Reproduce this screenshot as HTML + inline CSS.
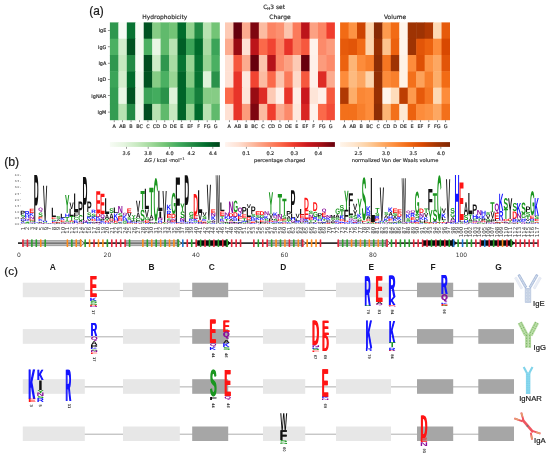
<!DOCTYPE html>
<html><head><meta charset="utf-8"><title>Figure</title>
<style>html,body{margin:0;padding:0;background:#fff}svg{display:block}text{white-space:pre}.g{text-rendering:geometricPrecision}</style>
</head><body>
<svg width="550" height="456" viewBox="0 0 550 456">
<rect width="550" height="456" fill="#fff"/>
<g font-family="'DejaVu Sans','Liberation Sans',sans-serif" font-size="4.9" fill="#2a2a2a" stroke="#2a2a2a" stroke-width="0.16">
<rect stroke="none" x="109.90" y="22.40" width="8.95" height="16.80" fill="#2f974e"/>
<rect stroke="none" x="118.35" y="22.40" width="8.95" height="16.80" fill="#f7fcf5"/>
<rect stroke="none" x="126.81" y="22.40" width="8.95" height="16.80" fill="#077331"/>
<rect stroke="none" x="135.26" y="22.40" width="8.95" height="16.80" fill="#f7fcf5"/>
<rect stroke="none" x="143.72" y="22.40" width="8.95" height="16.80" fill="#005321"/>
<rect stroke="none" x="152.17" y="22.40" width="8.95" height="16.80" fill="#86cc85"/>
<rect stroke="none" x="160.62" y="22.40" width="8.95" height="16.80" fill="#60ba6c"/>
<rect stroke="none" x="169.08" y="22.40" width="8.95" height="16.80" fill="#73c476"/>
<rect stroke="none" x="177.53" y="22.40" width="8.95" height="16.80" fill="#006b2b"/>
<rect stroke="none" x="185.98" y="22.40" width="8.95" height="16.80" fill="#91d28e"/>
<rect stroke="none" x="194.44" y="22.40" width="8.95" height="16.80" fill="#228a44"/>
<rect stroke="none" x="202.89" y="22.40" width="8.95" height="16.80" fill="#b8e3b2"/>
<rect stroke="none" x="211.35" y="22.40" width="8.45" height="16.80" fill="#73c476"/>
<rect stroke="none" x="109.90" y="38.70" width="8.95" height="16.80" fill="#4bb062"/>
<rect stroke="none" x="118.35" y="38.70" width="8.95" height="16.80" fill="#d3eecd"/>
<rect stroke="none" x="126.81" y="38.70" width="8.95" height="16.80" fill="#005321"/>
<rect stroke="none" x="135.26" y="38.70" width="8.95" height="16.80" fill="#f4fbf2"/>
<rect stroke="none" x="143.72" y="38.70" width="8.95" height="16.80" fill="#4bb062"/>
<rect stroke="none" x="152.17" y="38.70" width="8.95" height="16.80" fill="#e9f7e5"/>
<rect stroke="none" x="160.62" y="38.70" width="8.95" height="16.80" fill="#60ba6c"/>
<rect stroke="none" x="169.08" y="38.70" width="8.95" height="16.80" fill="#b8e3b2"/>
<rect stroke="none" x="177.53" y="38.70" width="8.95" height="16.80" fill="#005e26"/>
<rect stroke="none" x="185.98" y="38.70" width="8.95" height="16.80" fill="#3ba458"/>
<rect stroke="none" x="194.44" y="38.70" width="8.95" height="16.80" fill="#006b2b"/>
<rect stroke="none" x="202.89" y="38.70" width="8.95" height="16.80" fill="#a9dca3"/>
<rect stroke="none" x="211.35" y="38.70" width="8.45" height="16.80" fill="#3ba458"/>
<rect stroke="none" x="109.90" y="55.00" width="8.95" height="16.80" fill="#2f974e"/>
<rect stroke="none" x="118.35" y="55.00" width="8.95" height="16.80" fill="#c7e9c0"/>
<rect stroke="none" x="126.81" y="55.00" width="8.95" height="16.80" fill="#228a44"/>
<rect stroke="none" x="135.26" y="55.00" width="8.95" height="16.80" fill="#f7fcf5"/>
<rect stroke="none" x="143.72" y="55.00" width="8.95" height="16.80" fill="#004d1f"/>
<rect stroke="none" x="152.17" y="55.00" width="8.95" height="16.80" fill="#ceecc8"/>
<rect stroke="none" x="160.62" y="55.00" width="8.95" height="16.80" fill="#2f974e"/>
<rect stroke="none" x="169.08" y="55.00" width="8.95" height="16.80" fill="#a9dca3"/>
<rect stroke="none" x="177.53" y="55.00" width="8.95" height="16.80" fill="#077331"/>
<rect stroke="none" x="185.98" y="55.00" width="8.95" height="16.80" fill="#98d594"/>
<rect stroke="none" x="194.44" y="55.00" width="8.95" height="16.80" fill="#077331"/>
<rect stroke="none" x="202.89" y="55.00" width="8.95" height="16.80" fill="#98d594"/>
<rect stroke="none" x="211.35" y="55.00" width="8.45" height="16.80" fill="#4bb062"/>
<rect stroke="none" x="109.90" y="71.30" width="8.95" height="16.80" fill="#3ba458"/>
<rect stroke="none" x="118.35" y="71.30" width="8.95" height="16.80" fill="#d3eecd"/>
<rect stroke="none" x="126.81" y="71.30" width="8.95" height="16.80" fill="#006b2b"/>
<rect stroke="none" x="135.26" y="71.30" width="8.95" height="16.80" fill="#f0f9ed"/>
<rect stroke="none" x="143.72" y="71.30" width="8.95" height="16.80" fill="#005321"/>
<rect stroke="none" x="152.17" y="71.30" width="8.95" height="16.80" fill="#86cc85"/>
<rect stroke="none" x="160.62" y="71.30" width="8.95" height="16.80" fill="#4bb062"/>
<rect stroke="none" x="169.08" y="71.30" width="8.95" height="16.80" fill="#98d594"/>
<rect stroke="none" x="177.53" y="71.30" width="8.95" height="16.80" fill="#006428"/>
<rect stroke="none" x="185.98" y="71.30" width="8.95" height="16.80" fill="#86cc85"/>
<rect stroke="none" x="194.44" y="71.30" width="8.95" height="16.80" fill="#077331"/>
<rect stroke="none" x="202.89" y="71.30" width="8.95" height="16.80" fill="#dff3da"/>
<rect stroke="none" x="211.35" y="71.30" width="8.45" height="16.80" fill="#2a924a"/>
<rect stroke="none" x="109.90" y="87.60" width="8.95" height="16.80" fill="#339c52"/>
<rect stroke="none" x="118.35" y="87.60" width="8.95" height="16.80" fill="#e9f7e5"/>
<rect stroke="none" x="126.81" y="87.60" width="8.95" height="16.80" fill="#005321"/>
<rect stroke="none" x="135.26" y="87.60" width="8.95" height="16.80" fill="#ecf8e8"/>
<rect stroke="none" x="143.72" y="87.60" width="8.95" height="16.80" fill="#3ba458"/>
<rect stroke="none" x="152.17" y="87.60" width="8.95" height="16.80" fill="#43ac5e"/>
<rect stroke="none" x="160.62" y="87.60" width="8.95" height="16.80" fill="#2a924a"/>
<rect stroke="none" x="169.08" y="87.60" width="8.95" height="16.80" fill="#dff3da"/>
<rect stroke="none" x="177.53" y="87.60" width="8.95" height="16.80" fill="#006428"/>
<rect stroke="none" x="185.98" y="87.60" width="8.95" height="16.80" fill="#4bb062"/>
<rect stroke="none" x="194.44" y="87.60" width="8.95" height="16.80" fill="#157f3b"/>
<rect stroke="none" x="202.89" y="87.60" width="8.95" height="16.80" fill="#86cc85"/>
<rect stroke="none" x="211.35" y="87.60" width="8.45" height="16.80" fill="#86cc85"/>
<rect stroke="none" x="109.90" y="103.90" width="8.95" height="16.30" fill="#339c52"/>
<rect stroke="none" x="118.35" y="103.90" width="8.95" height="16.30" fill="#b8e3b2"/>
<rect stroke="none" x="126.81" y="103.90" width="8.95" height="16.30" fill="#228a44"/>
<rect stroke="none" x="135.26" y="103.90" width="8.95" height="16.30" fill="#f0f9ed"/>
<rect stroke="none" x="143.72" y="103.90" width="8.95" height="16.30" fill="#004d1f"/>
<rect stroke="none" x="152.17" y="103.90" width="8.95" height="16.30" fill="#b8e3b2"/>
<rect stroke="none" x="160.62" y="103.90" width="8.95" height="16.30" fill="#60ba6c"/>
<rect stroke="none" x="169.08" y="103.90" width="8.95" height="16.30" fill="#c7e9c0"/>
<rect stroke="none" x="177.53" y="103.90" width="8.95" height="16.30" fill="#006428"/>
<rect stroke="none" x="185.98" y="103.90" width="8.95" height="16.30" fill="#98d594"/>
<rect stroke="none" x="194.44" y="103.90" width="8.95" height="16.30" fill="#006b2b"/>
<rect stroke="none" x="202.89" y="103.90" width="8.95" height="16.30" fill="#b8e3b2"/>
<rect stroke="none" x="211.35" y="103.90" width="8.45" height="16.30" fill="#60ba6c"/>
<rect stroke="none" x="113.88" y="120.20" width="0.5" height="1.9" fill="#2a2a2a"/>
<text x="114.13" y="128.3" text-anchor="middle">A</text>
<rect stroke="none" x="122.33" y="120.20" width="0.5" height="1.9" fill="#2a2a2a"/>
<text x="122.58" y="128.3" text-anchor="middle">AB</text>
<rect stroke="none" x="130.78" y="120.20" width="0.5" height="1.9" fill="#2a2a2a"/>
<text x="131.03" y="128.3" text-anchor="middle">B</text>
<rect stroke="none" x="139.24" y="120.20" width="0.5" height="1.9" fill="#2a2a2a"/>
<text x="139.49" y="128.3" text-anchor="middle">BC</text>
<rect stroke="none" x="147.69" y="120.20" width="0.5" height="1.9" fill="#2a2a2a"/>
<text x="147.94" y="128.3" text-anchor="middle">C</text>
<rect stroke="none" x="156.15" y="120.20" width="0.5" height="1.9" fill="#2a2a2a"/>
<text x="156.40" y="128.3" text-anchor="middle">CD</text>
<rect stroke="none" x="164.60" y="120.20" width="0.5" height="1.9" fill="#2a2a2a"/>
<text x="164.85" y="128.3" text-anchor="middle">D</text>
<rect stroke="none" x="173.05" y="120.20" width="0.5" height="1.9" fill="#2a2a2a"/>
<text x="173.30" y="128.3" text-anchor="middle">DE</text>
<rect stroke="none" x="181.51" y="120.20" width="0.5" height="1.9" fill="#2a2a2a"/>
<text x="181.76" y="128.3" text-anchor="middle">E</text>
<rect stroke="none" x="189.96" y="120.20" width="0.5" height="1.9" fill="#2a2a2a"/>
<text x="190.21" y="128.3" text-anchor="middle">EF</text>
<rect stroke="none" x="198.42" y="120.20" width="0.5" height="1.9" fill="#2a2a2a"/>
<text x="198.67" y="128.3" text-anchor="middle">F</text>
<rect stroke="none" x="206.87" y="120.20" width="0.5" height="1.9" fill="#2a2a2a"/>
<text x="207.12" y="128.3" text-anchor="middle">FG</text>
<rect stroke="none" x="215.32" y="120.20" width="0.5" height="1.9" fill="#2a2a2a"/>
<text x="215.57" y="128.3" text-anchor="middle">G</text>
<text x="164.85" y="19.4" text-anchor="middle" font-size="5.95">Hydrophobicity</text>
<defs><linearGradient id="cb0" x1="0" x2="1" y1="0" y2="0"><stop offset="0.000" stop-color="#f7fcf5"/><stop offset="0.062" stop-color="#eef8ea"/><stop offset="0.125" stop-color="#e5f5e0"/><stop offset="0.188" stop-color="#d6efd0"/><stop offset="0.250" stop-color="#c7e9c0"/><stop offset="0.312" stop-color="#b4e1ad"/><stop offset="0.375" stop-color="#a0d99b"/><stop offset="0.438" stop-color="#8ace88"/><stop offset="0.500" stop-color="#73c476"/><stop offset="0.562" stop-color="#5ab769"/><stop offset="0.625" stop-color="#40aa5d"/><stop offset="0.688" stop-color="#319a50"/><stop offset="0.750" stop-color="#228a44"/><stop offset="0.812" stop-color="#117b38"/><stop offset="0.875" stop-color="#006c2c"/><stop offset="0.938" stop-color="#005723"/><stop offset="1.000" stop-color="#00441b"/></linearGradient></defs>
<rect stroke="none" x="109.90" y="142.1" width="109.90" height="4.8" fill="url(#cb0)"/>
<rect stroke="none" x="225.00" y="22.40" width="8.95" height="16.80" fill="#fdcab5"/>
<rect stroke="none" x="233.45" y="22.40" width="8.95" height="16.80" fill="#67000d"/>
<rect stroke="none" x="241.91" y="22.40" width="8.95" height="16.80" fill="#fcab8f"/>
<rect stroke="none" x="250.36" y="22.40" width="8.95" height="16.80" fill="#7e0610"/>
<rect stroke="none" x="258.82" y="22.40" width="8.95" height="16.80" fill="#fcbba1"/>
<rect stroke="none" x="267.27" y="22.40" width="8.95" height="16.80" fill="#fc8464"/>
<rect stroke="none" x="275.72" y="22.40" width="8.95" height="16.80" fill="#fc9070"/>
<rect stroke="none" x="284.18" y="22.40" width="8.95" height="16.80" fill="#fcc4ad"/>
<rect stroke="none" x="292.63" y="22.40" width="8.95" height="16.80" fill="#fb7a5a"/>
<rect stroke="none" x="301.08" y="22.40" width="8.95" height="16.80" fill="#bc141a"/>
<rect stroke="none" x="309.54" y="22.40" width="8.95" height="16.80" fill="#fca183"/>
<rect stroke="none" x="317.99" y="22.40" width="8.95" height="16.80" fill="#fc8464"/>
<rect stroke="none" x="326.45" y="22.40" width="8.45" height="16.80" fill="#f03d2d"/>
<rect stroke="none" x="225.00" y="38.70" width="8.95" height="16.80" fill="#fcab8f"/>
<rect stroke="none" x="233.45" y="38.70" width="8.95" height="16.80" fill="#980c13"/>
<rect stroke="none" x="241.91" y="38.70" width="8.95" height="16.80" fill="#fee1d4"/>
<rect stroke="none" x="250.36" y="38.70" width="8.95" height="16.80" fill="#bc141a"/>
<rect stroke="none" x="258.82" y="38.70" width="8.95" height="16.80" fill="#fb694a"/>
<rect stroke="none" x="267.27" y="38.70" width="8.95" height="16.80" fill="#f14432"/>
<rect stroke="none" x="275.72" y="38.70" width="8.95" height="16.80" fill="#fc8464"/>
<rect stroke="none" x="284.18" y="38.70" width="8.95" height="16.80" fill="#e83429"/>
<rect stroke="none" x="292.63" y="38.70" width="8.95" height="16.80" fill="#fb7a5a"/>
<rect stroke="none" x="301.08" y="38.70" width="8.95" height="16.80" fill="#f6583e"/>
<rect stroke="none" x="309.54" y="38.70" width="8.95" height="16.80" fill="#fff2eb"/>
<rect stroke="none" x="317.99" y="38.70" width="8.95" height="16.80" fill="#fc8a6a"/>
<rect stroke="none" x="326.45" y="38.70" width="8.45" height="16.80" fill="#fc9b7c"/>
<rect stroke="none" x="225.00" y="55.00" width="8.95" height="16.80" fill="#fee1d4"/>
<rect stroke="none" x="233.45" y="55.00" width="8.95" height="16.80" fill="#f6583e"/>
<rect stroke="none" x="241.91" y="55.00" width="8.95" height="16.80" fill="#fcab8f"/>
<rect stroke="none" x="250.36" y="55.00" width="8.95" height="16.80" fill="#67000d"/>
<rect stroke="none" x="258.82" y="55.00" width="8.95" height="16.80" fill="#fcc4ad"/>
<rect stroke="none" x="267.27" y="55.00" width="8.95" height="16.80" fill="#b61319"/>
<rect stroke="none" x="275.72" y="55.00" width="8.95" height="16.80" fill="#fc8a6a"/>
<rect stroke="none" x="284.18" y="55.00" width="8.95" height="16.80" fill="#fca183"/>
<rect stroke="none" x="292.63" y="55.00" width="8.95" height="16.80" fill="#fdcab5"/>
<rect stroke="none" x="301.08" y="55.00" width="8.95" height="16.80" fill="#67000d"/>
<rect stroke="none" x="309.54" y="55.00" width="8.95" height="16.80" fill="#fff0e9"/>
<rect stroke="none" x="317.99" y="55.00" width="8.95" height="16.80" fill="#fc9b7c"/>
<rect stroke="none" x="326.45" y="55.00" width="8.45" height="16.80" fill="#fc8a6a"/>
<rect stroke="none" x="225.00" y="71.30" width="8.95" height="16.80" fill="#fee1d4"/>
<rect stroke="none" x="233.45" y="71.30" width="8.95" height="16.80" fill="#e83429"/>
<rect stroke="none" x="241.91" y="71.30" width="8.95" height="16.80" fill="#fee8dd"/>
<rect stroke="none" x="250.36" y="71.30" width="8.95" height="16.80" fill="#f14432"/>
<rect stroke="none" x="258.82" y="71.30" width="8.95" height="16.80" fill="#fcbba1"/>
<rect stroke="none" x="267.27" y="71.30" width="8.95" height="16.80" fill="#fb694a"/>
<rect stroke="none" x="275.72" y="71.30" width="8.95" height="16.80" fill="#fcc4ad"/>
<rect stroke="none" x="284.18" y="71.30" width="8.95" height="16.80" fill="#fb7a5a"/>
<rect stroke="none" x="292.63" y="71.30" width="8.95" height="16.80" fill="#fed9c9"/>
<rect stroke="none" x="301.08" y="71.30" width="8.95" height="16.80" fill="#f6583e"/>
<rect stroke="none" x="309.54" y="71.30" width="8.95" height="16.80" fill="#fff0e9"/>
<rect stroke="none" x="317.99" y="71.30" width="8.95" height="16.80" fill="#de2b25"/>
<rect stroke="none" x="326.45" y="71.30" width="8.45" height="16.80" fill="#fcab8f"/>
<rect stroke="none" x="225.00" y="87.60" width="8.95" height="16.80" fill="#fb694a"/>
<rect stroke="none" x="233.45" y="87.60" width="8.95" height="16.80" fill="#e83429"/>
<rect stroke="none" x="241.91" y="87.60" width="8.95" height="16.80" fill="#fee5d8"/>
<rect stroke="none" x="250.36" y="87.60" width="8.95" height="16.80" fill="#980c13"/>
<rect stroke="none" x="258.82" y="87.60" width="8.95" height="16.80" fill="#de2b25"/>
<rect stroke="none" x="267.27" y="87.60" width="8.95" height="16.80" fill="#fdcab5"/>
<rect stroke="none" x="275.72" y="87.60" width="8.95" height="16.80" fill="#fff0e9"/>
<rect stroke="none" x="284.18" y="87.60" width="8.95" height="16.80" fill="#e83429"/>
<rect stroke="none" x="292.63" y="87.60" width="8.95" height="16.80" fill="#ffede5"/>
<rect stroke="none" x="301.08" y="87.60" width="8.95" height="16.80" fill="#ca181d"/>
<rect stroke="none" x="309.54" y="87.60" width="8.95" height="16.80" fill="#fee5d8"/>
<rect stroke="none" x="317.99" y="87.60" width="8.95" height="16.80" fill="#fff0e9"/>
<rect stroke="none" x="326.45" y="87.60" width="8.45" height="16.80" fill="#f6583e"/>
<rect stroke="none" x="225.00" y="103.90" width="8.95" height="16.30" fill="#fee1d4"/>
<rect stroke="none" x="233.45" y="103.90" width="8.95" height="16.30" fill="#e83429"/>
<rect stroke="none" x="241.91" y="103.90" width="8.95" height="16.30" fill="#fc9b7c"/>
<rect stroke="none" x="250.36" y="103.90" width="8.95" height="16.30" fill="#7e0610"/>
<rect stroke="none" x="258.82" y="103.90" width="8.95" height="16.30" fill="#fcbba1"/>
<rect stroke="none" x="267.27" y="103.90" width="8.95" height="16.30" fill="#f03d2d"/>
<rect stroke="none" x="275.72" y="103.90" width="8.95" height="16.30" fill="#fcab8f"/>
<rect stroke="none" x="284.18" y="103.90" width="8.95" height="16.30" fill="#fc8a6a"/>
<rect stroke="none" x="292.63" y="103.90" width="8.95" height="16.30" fill="#fee8dd"/>
<rect stroke="none" x="301.08" y="103.90" width="8.95" height="16.30" fill="#d92523"/>
<rect stroke="none" x="309.54" y="103.90" width="8.95" height="16.30" fill="#fff2eb"/>
<rect stroke="none" x="317.99" y="103.90" width="8.95" height="16.30" fill="#fb694a"/>
<rect stroke="none" x="326.45" y="103.90" width="8.45" height="16.30" fill="#f34c37"/>
<rect stroke="none" x="228.98" y="120.20" width="0.5" height="1.9" fill="#2a2a2a"/>
<text x="229.23" y="128.3" text-anchor="middle">A</text>
<rect stroke="none" x="237.43" y="120.20" width="0.5" height="1.9" fill="#2a2a2a"/>
<text x="237.68" y="128.3" text-anchor="middle">AB</text>
<rect stroke="none" x="245.88" y="120.20" width="0.5" height="1.9" fill="#2a2a2a"/>
<text x="246.13" y="128.3" text-anchor="middle">B</text>
<rect stroke="none" x="254.34" y="120.20" width="0.5" height="1.9" fill="#2a2a2a"/>
<text x="254.59" y="128.3" text-anchor="middle">BC</text>
<rect stroke="none" x="262.79" y="120.20" width="0.5" height="1.9" fill="#2a2a2a"/>
<text x="263.04" y="128.3" text-anchor="middle">C</text>
<rect stroke="none" x="271.25" y="120.20" width="0.5" height="1.9" fill="#2a2a2a"/>
<text x="271.50" y="128.3" text-anchor="middle">CD</text>
<rect stroke="none" x="279.70" y="120.20" width="0.5" height="1.9" fill="#2a2a2a"/>
<text x="279.95" y="128.3" text-anchor="middle">D</text>
<rect stroke="none" x="288.15" y="120.20" width="0.5" height="1.9" fill="#2a2a2a"/>
<text x="288.40" y="128.3" text-anchor="middle">DE</text>
<rect stroke="none" x="296.61" y="120.20" width="0.5" height="1.9" fill="#2a2a2a"/>
<text x="296.86" y="128.3" text-anchor="middle">E</text>
<rect stroke="none" x="305.06" y="120.20" width="0.5" height="1.9" fill="#2a2a2a"/>
<text x="305.31" y="128.3" text-anchor="middle">EF</text>
<rect stroke="none" x="313.52" y="120.20" width="0.5" height="1.9" fill="#2a2a2a"/>
<text x="313.77" y="128.3" text-anchor="middle">F</text>
<rect stroke="none" x="321.97" y="120.20" width="0.5" height="1.9" fill="#2a2a2a"/>
<text x="322.22" y="128.3" text-anchor="middle">FG</text>
<rect stroke="none" x="330.42" y="120.20" width="0.5" height="1.9" fill="#2a2a2a"/>
<text x="330.67" y="128.3" text-anchor="middle">G</text>
<text x="279.95" y="19.4" text-anchor="middle" font-size="5.95">Charge</text>
<defs><linearGradient id="cb1" x1="0" x2="1" y1="0" y2="0"><stop offset="0.000" stop-color="#fff5f0"/><stop offset="0.062" stop-color="#feeae1"/><stop offset="0.125" stop-color="#fee0d2"/><stop offset="0.188" stop-color="#fdcdb9"/><stop offset="0.250" stop-color="#fcbba1"/><stop offset="0.312" stop-color="#fca689"/><stop offset="0.375" stop-color="#fc9272"/><stop offset="0.438" stop-color="#fb7d5d"/><stop offset="0.500" stop-color="#fb694a"/><stop offset="0.562" stop-color="#f5523a"/><stop offset="0.625" stop-color="#ee3a2c"/><stop offset="0.688" stop-color="#dc2924"/><stop offset="0.750" stop-color="#ca181d"/><stop offset="0.812" stop-color="#b71319"/><stop offset="0.875" stop-color="#a30f15"/><stop offset="0.938" stop-color="#840711"/><stop offset="1.000" stop-color="#67000d"/></linearGradient></defs>
<rect stroke="none" x="225.00" y="142.1" width="109.90" height="4.8" fill="url(#cb1)"/>
<rect stroke="none" x="340.10" y="22.40" width="8.95" height="16.80" fill="#f26b15"/>
<rect stroke="none" x="348.55" y="22.40" width="8.95" height="16.80" fill="#fd9344"/>
<rect stroke="none" x="357.01" y="22.40" width="8.95" height="16.80" fill="#cd4401"/>
<rect stroke="none" x="365.46" y="22.40" width="8.95" height="16.80" fill="#fdd5ad"/>
<rect stroke="none" x="373.92" y="22.40" width="8.95" height="16.80" fill="#882a04"/>
<rect stroke="none" x="382.37" y="22.40" width="8.95" height="16.80" fill="#fd9a4e"/>
<rect stroke="none" x="390.82" y="22.40" width="8.95" height="16.80" fill="#f26b15"/>
<rect stroke="none" x="399.28" y="22.40" width="8.95" height="16.80" fill="#fff5eb"/>
<rect stroke="none" x="407.73" y="22.40" width="8.95" height="16.80" fill="#9e3303"/>
<rect stroke="none" x="416.18" y="22.40" width="8.95" height="16.80" fill="#9e3303"/>
<rect stroke="none" x="424.64" y="22.40" width="8.95" height="16.80" fill="#b03903"/>
<rect stroke="none" x="433.09" y="22.40" width="8.95" height="16.80" fill="#fdd9b4"/>
<rect stroke="none" x="441.55" y="22.40" width="8.45" height="16.80" fill="#e65a0b"/>
<rect stroke="none" x="340.10" y="38.70" width="8.95" height="16.80" fill="#e65a0b"/>
<rect stroke="none" x="348.55" y="38.70" width="8.95" height="16.80" fill="#e25508"/>
<rect stroke="none" x="357.01" y="38.70" width="8.95" height="16.80" fill="#f26b15"/>
<rect stroke="none" x="365.46" y="38.70" width="8.95" height="16.80" fill="#fdd5ad"/>
<rect stroke="none" x="373.92" y="38.70" width="8.95" height="16.80" fill="#973003"/>
<rect stroke="none" x="382.37" y="38.70" width="8.95" height="16.80" fill="#fdc38d"/>
<rect stroke="none" x="390.82" y="38.70" width="8.95" height="16.80" fill="#ec620f"/>
<rect stroke="none" x="399.28" y="38.70" width="8.95" height="16.80" fill="#fff5eb"/>
<rect stroke="none" x="407.73" y="38.70" width="8.95" height="16.80" fill="#9e3303"/>
<rect stroke="none" x="416.18" y="38.70" width="8.95" height="16.80" fill="#e25508"/>
<rect stroke="none" x="424.64" y="38.70" width="8.95" height="16.80" fill="#ec620f"/>
<rect stroke="none" x="433.09" y="38.70" width="8.95" height="16.80" fill="#fd8c3b"/>
<rect stroke="none" x="441.55" y="38.70" width="8.45" height="16.80" fill="#d84801"/>
<rect stroke="none" x="340.10" y="55.00" width="8.95" height="16.80" fill="#ec620f"/>
<rect stroke="none" x="348.55" y="55.00" width="8.95" height="16.80" fill="#fdb576"/>
<rect stroke="none" x="357.01" y="55.00" width="8.95" height="16.80" fill="#fd8c3b"/>
<rect stroke="none" x="365.46" y="55.00" width="8.95" height="16.80" fill="#f87f2c"/>
<rect stroke="none" x="373.92" y="55.00" width="8.95" height="16.80" fill="#8e2d04"/>
<rect stroke="none" x="382.37" y="55.00" width="8.95" height="16.80" fill="#f57622"/>
<rect stroke="none" x="390.82" y="55.00" width="8.95" height="16.80" fill="#9e3303"/>
<rect stroke="none" x="399.28" y="55.00" width="8.95" height="16.80" fill="#fff3e6"/>
<rect stroke="none" x="407.73" y="55.00" width="8.95" height="16.80" fill="#fd8c3b"/>
<rect stroke="none" x="416.18" y="55.00" width="8.95" height="16.80" fill="#de5005"/>
<rect stroke="none" x="424.64" y="55.00" width="8.95" height="16.80" fill="#fd9344"/>
<rect stroke="none" x="433.09" y="55.00" width="8.95" height="16.80" fill="#fda762"/>
<rect stroke="none" x="441.55" y="55.00" width="8.45" height="16.80" fill="#e25508"/>
<rect stroke="none" x="340.10" y="71.30" width="8.95" height="16.80" fill="#fd8c3b"/>
<rect stroke="none" x="348.55" y="71.30" width="8.95" height="16.80" fill="#fdba7f"/>
<rect stroke="none" x="357.01" y="71.30" width="8.95" height="16.80" fill="#fda762"/>
<rect stroke="none" x="365.46" y="71.30" width="8.95" height="16.80" fill="#fdd5ad"/>
<rect stroke="none" x="373.92" y="71.30" width="8.95" height="16.80" fill="#942f03"/>
<rect stroke="none" x="382.37" y="71.30" width="8.95" height="16.80" fill="#fd8c3b"/>
<rect stroke="none" x="390.82" y="71.30" width="8.95" height="16.80" fill="#f87f2c"/>
<rect stroke="none" x="399.28" y="71.30" width="8.95" height="16.80" fill="#fff3e6"/>
<rect stroke="none" x="407.73" y="71.30" width="8.95" height="16.80" fill="#f3701b"/>
<rect stroke="none" x="416.18" y="71.30" width="8.95" height="16.80" fill="#fda25a"/>
<rect stroke="none" x="424.64" y="71.30" width="8.95" height="16.80" fill="#f87f2c"/>
<rect stroke="none" x="433.09" y="71.30" width="8.95" height="16.80" fill="#fdad69"/>
<rect stroke="none" x="441.55" y="71.30" width="8.45" height="16.80" fill="#f26b15"/>
<rect stroke="none" x="340.10" y="87.60" width="8.95" height="16.80" fill="#b03903"/>
<rect stroke="none" x="348.55" y="87.60" width="8.95" height="16.80" fill="#fdad69"/>
<rect stroke="none" x="357.01" y="87.60" width="8.95" height="16.80" fill="#fb8735"/>
<rect stroke="none" x="365.46" y="87.60" width="8.95" height="16.80" fill="#fd8c3b"/>
<rect stroke="none" x="373.92" y="87.60" width="8.95" height="16.80" fill="#973003"/>
<rect stroke="none" x="382.37" y="87.60" width="8.95" height="16.80" fill="#fff5eb"/>
<rect stroke="none" x="390.82" y="87.60" width="8.95" height="16.80" fill="#fedcbb"/>
<rect stroke="none" x="399.28" y="87.60" width="8.95" height="16.80" fill="#bd3e02"/>
<rect stroke="none" x="407.73" y="87.60" width="8.95" height="16.80" fill="#fd9a4e"/>
<rect stroke="none" x="416.18" y="87.60" width="8.95" height="16.80" fill="#e65a0b"/>
<rect stroke="none" x="424.64" y="87.60" width="8.95" height="16.80" fill="#f57622"/>
<rect stroke="none" x="433.09" y="87.60" width="8.95" height="16.80" fill="#fdd9b4"/>
<rect stroke="none" x="441.55" y="87.60" width="8.45" height="16.80" fill="#fd8c3b"/>
<rect stroke="none" x="340.10" y="103.90" width="8.95" height="16.30" fill="#f3701b"/>
<rect stroke="none" x="348.55" y="103.90" width="8.95" height="16.30" fill="#f3701b"/>
<rect stroke="none" x="357.01" y="103.90" width="8.95" height="16.30" fill="#f87f2c"/>
<rect stroke="none" x="365.46" y="103.90" width="8.95" height="16.30" fill="#fd8c3b"/>
<rect stroke="none" x="373.92" y="103.90" width="8.95" height="16.30" fill="#8e2d04"/>
<rect stroke="none" x="382.37" y="103.90" width="8.95" height="16.30" fill="#fdb576"/>
<rect stroke="none" x="390.82" y="103.90" width="8.95" height="16.30" fill="#f3701b"/>
<rect stroke="none" x="399.28" y="103.90" width="8.95" height="16.30" fill="#fee9d4"/>
<rect stroke="none" x="407.73" y="103.90" width="8.95" height="16.30" fill="#ec620f"/>
<rect stroke="none" x="416.18" y="103.90" width="8.95" height="16.30" fill="#fd8c3b"/>
<rect stroke="none" x="424.64" y="103.90" width="8.95" height="16.30" fill="#fd9344"/>
<rect stroke="none" x="433.09" y="103.90" width="8.95" height="16.30" fill="#fda762"/>
<rect stroke="none" x="441.55" y="103.90" width="8.45" height="16.30" fill="#f3701b"/>
<rect stroke="none" x="344.08" y="120.20" width="0.5" height="1.9" fill="#2a2a2a"/>
<text x="344.33" y="128.3" text-anchor="middle">A</text>
<rect stroke="none" x="352.53" y="120.20" width="0.5" height="1.9" fill="#2a2a2a"/>
<text x="352.78" y="128.3" text-anchor="middle">AB</text>
<rect stroke="none" x="360.98" y="120.20" width="0.5" height="1.9" fill="#2a2a2a"/>
<text x="361.23" y="128.3" text-anchor="middle">B</text>
<rect stroke="none" x="369.44" y="120.20" width="0.5" height="1.9" fill="#2a2a2a"/>
<text x="369.69" y="128.3" text-anchor="middle">BC</text>
<rect stroke="none" x="377.89" y="120.20" width="0.5" height="1.9" fill="#2a2a2a"/>
<text x="378.14" y="128.3" text-anchor="middle">C</text>
<rect stroke="none" x="386.35" y="120.20" width="0.5" height="1.9" fill="#2a2a2a"/>
<text x="386.60" y="128.3" text-anchor="middle">CD</text>
<rect stroke="none" x="394.80" y="120.20" width="0.5" height="1.9" fill="#2a2a2a"/>
<text x="395.05" y="128.3" text-anchor="middle">D</text>
<rect stroke="none" x="403.25" y="120.20" width="0.5" height="1.9" fill="#2a2a2a"/>
<text x="403.50" y="128.3" text-anchor="middle">DE</text>
<rect stroke="none" x="411.71" y="120.20" width="0.5" height="1.9" fill="#2a2a2a"/>
<text x="411.96" y="128.3" text-anchor="middle">E</text>
<rect stroke="none" x="420.16" y="120.20" width="0.5" height="1.9" fill="#2a2a2a"/>
<text x="420.41" y="128.3" text-anchor="middle">EF</text>
<rect stroke="none" x="428.62" y="120.20" width="0.5" height="1.9" fill="#2a2a2a"/>
<text x="428.87" y="128.3" text-anchor="middle">F</text>
<rect stroke="none" x="437.07" y="120.20" width="0.5" height="1.9" fill="#2a2a2a"/>
<text x="437.32" y="128.3" text-anchor="middle">FG</text>
<rect stroke="none" x="445.52" y="120.20" width="0.5" height="1.9" fill="#2a2a2a"/>
<text x="445.77" y="128.3" text-anchor="middle">G</text>
<text x="395.05" y="19.4" text-anchor="middle" font-size="5.95">Volume</text>
<defs><linearGradient id="cb2" x1="0" x2="1" y1="0" y2="0"><stop offset="0.000" stop-color="#fff5eb"/><stop offset="0.062" stop-color="#feeddc"/><stop offset="0.125" stop-color="#fee6ce"/><stop offset="0.188" stop-color="#fddbb8"/><stop offset="0.250" stop-color="#fdd0a2"/><stop offset="0.312" stop-color="#fdbf86"/><stop offset="0.375" stop-color="#fdae6a"/><stop offset="0.438" stop-color="#fd9d53"/><stop offset="0.500" stop-color="#fd8c3b"/><stop offset="0.562" stop-color="#f77a27"/><stop offset="0.625" stop-color="#f16813"/><stop offset="0.688" stop-color="#e4580a"/><stop offset="0.750" stop-color="#d84801"/><stop offset="0.812" stop-color="#be3f02"/><stop offset="0.875" stop-color="#a53603"/><stop offset="0.938" stop-color="#912e04"/><stop offset="1.000" stop-color="#7f2704"/></linearGradient></defs>
<rect stroke="none" x="340.10" y="142.1" width="109.90" height="4.8" fill="url(#cb2)"/>
<rect stroke="none" x="107.9" y="30.30" width="2" height="0.5" fill="#2a2a2a"/>
<text x="106.3" y="32.35" text-anchor="end">IgE</text>
<rect stroke="none" x="107.9" y="46.60" width="2" height="0.5" fill="#2a2a2a"/>
<text x="106.3" y="48.65" text-anchor="end">IgG</text>
<rect stroke="none" x="107.9" y="62.90" width="2" height="0.5" fill="#2a2a2a"/>
<text x="106.3" y="64.95" text-anchor="end">IgA</text>
<rect stroke="none" x="107.9" y="79.20" width="2" height="0.5" fill="#2a2a2a"/>
<text x="106.3" y="81.25" text-anchor="end">IgD</text>
<rect stroke="none" x="107.9" y="95.50" width="2" height="0.5" fill="#2a2a2a"/>
<text x="106.3" y="97.55" text-anchor="end">IgNAR</text>
<rect stroke="none" x="107.9" y="111.80" width="2" height="0.5" fill="#2a2a2a"/>
<text x="106.3" y="113.85" text-anchor="end">IgM</text>
<rect stroke="none" x="126.25" y="146.9" width="0.5" height="1.9" fill="#2a2a2a"/>
<text x="126.50" y="154.9" text-anchor="middle">3.6</text>
<rect stroke="none" x="147.85" y="146.9" width="0.5" height="1.9" fill="#2a2a2a"/>
<text x="148.10" y="154.9" text-anchor="middle">3.8</text>
<rect stroke="none" x="169.45" y="146.9" width="0.5" height="1.9" fill="#2a2a2a"/>
<text x="169.70" y="154.9" text-anchor="middle">4.0</text>
<rect stroke="none" x="191.05" y="146.9" width="0.5" height="1.9" fill="#2a2a2a"/>
<text x="191.30" y="154.9" text-anchor="middle">4.2</text>
<rect stroke="none" x="212.65" y="146.9" width="0.5" height="1.9" fill="#2a2a2a"/>
<text x="212.90" y="154.9" text-anchor="middle">4.4</text>
<rect stroke="none" x="245.95" y="146.9" width="0.5" height="1.9" fill="#2a2a2a"/>
<text x="246.20" y="154.9" text-anchor="middle">0.1</text>
<rect stroke="none" x="270.05" y="146.9" width="0.5" height="1.9" fill="#2a2a2a"/>
<text x="270.30" y="154.9" text-anchor="middle">0.2</text>
<rect stroke="none" x="294.05" y="146.9" width="0.5" height="1.9" fill="#2a2a2a"/>
<text x="294.30" y="154.9" text-anchor="middle">0.3</text>
<rect stroke="none" x="318.05" y="146.9" width="0.5" height="1.9" fill="#2a2a2a"/>
<text x="318.30" y="154.9" text-anchor="middle">0.4</text>
<rect stroke="none" x="358.15" y="146.9" width="0.5" height="1.9" fill="#2a2a2a"/>
<text x="358.40" y="154.9" text-anchor="middle">2.5</text>
<rect stroke="none" x="385.65" y="146.9" width="0.5" height="1.9" fill="#2a2a2a"/>
<text x="385.90" y="154.9" text-anchor="middle">3.0</text>
<rect stroke="none" x="413.15" y="146.9" width="0.5" height="1.9" fill="#2a2a2a"/>
<text x="413.40" y="154.9" text-anchor="middle">3.5</text>
<rect stroke="none" x="440.65" y="146.9" width="0.5" height="1.9" fill="#2a2a2a"/>
<text x="440.90" y="154.9" text-anchor="middle">4.0</text>
<text x="164.5" y="161.8" text-anchor="middle" font-size="5.05"><tspan font-style="italic">ΔG</tspan> / kcal ·mol<tspan font-size="3.4" dy="-1.8">−1</tspan></text>
<text x="279.6" y="161.8" text-anchor="middle" font-size="5.1">percentage charged</text>
<text x="395" y="161.8" text-anchor="middle" font-size="5.1">normalized Van der Waals volume</text>
<text x="263.2" y="8.7" font-size="5.9">C<tspan font-size="4" dy="1.2">H</tspan><tspan dy="-1.2">3 set</tspan></text>
</g>
<g font-family="'Liberation Sans',sans-serif" fill="#1a1a1a" stroke="#1a1a1a" stroke-width="0.2">
<text x="89.3" y="15.2" font-size="11.9">(a)</text>
<text x="4.2" y="166.1" font-size="12.3">(b)</text>
<text x="4.3" y="274.5" font-size="11.8">(c)</text>
</g>
<g font-family="'Liberation Sans',sans-serif" font-weight="bold" font-size="10">
<text class="g" transform="matrix(0.7298 0 0 0.6257 20.36 214.81)" fill="#111111">P</text>
<text class="g" transform="matrix(0.6893 0 0 0.3127 20.65 216.99)" fill="#1a961f">S</text>
<text class="g" transform="matrix(0.6156 0 0 0.2682 20.70 218.87)" fill="#111111">A</text>
<text class="g" transform="matrix(0.6393 0 0 0.2682 20.42 220.71)" fill="#1414ff">K</text>
<text class="g" transform="matrix(0.6322 0 0 0.2145 20.81 222.19)" fill="#111111">V</text>
<text class="g" transform="matrix(0.6506 0 0 0.1287 20.41 223.07)" fill="#1414ff">R</text>
<text class="g" transform="matrix(0.7013 0 0 0.0772 20.77 223.60)" fill="#1a961f">T</text>
<text class="g" transform="matrix(0.7025 0 0 0.0801 20.38 224.15)" fill="#8a0f9a">N</text>
<text class="g" transform="matrix(0.6506 0 0 0.7330 24.84 215.54)" fill="#1414ff">R</text>
<text class="g" transform="matrix(0.7025 0 0 0.3933 24.81 218.25)" fill="#1414ff">H</text>
<text class="g" transform="matrix(0.7025 0 0 0.2145 24.81 219.73)" fill="#8a0f9a">N</text>
<text class="g" transform="matrix(0.6393 0 0 0.2324 24.85 221.32)" fill="#1414ff">K</text>
<text class="g" transform="matrix(0.6893 0 0 0.1737 25.08 222.54)" fill="#1a961f">S</text>
<text class="g" transform="matrix(0.7013 0 0 0.1073 25.20 223.29)" fill="#1a961f">T</text>
<text class="g" transform="matrix(0.6120 0 0 0.1216 25.03 224.14)" fill="#1a961f">G</text>
<text class="g" transform="matrix(0.7361 0 0 0.6079 29.22 213.33)" fill="#ff1414">E</text>
<text class="g" transform="matrix(0.6393 0 0 0.4470 29.28 216.41)" fill="#1414ff">K</text>
<text class="g" transform="matrix(0.7025 0 0 0.3576 29.24 218.87)" fill="#8a0f9a">N</text>
<text class="g" transform="matrix(0.6734 0 0 0.2682 29.26 220.71)" fill="#ff1414">D</text>
<text class="g" transform="matrix(0.6120 0 0 0.2085 29.46 222.17)" fill="#1a961f">G</text>
<text class="g" transform="matrix(0.5944 0 0 0.0989 29.47 222.88)" fill="#8a0f9a">Q</text>
<text class="g" transform="matrix(0.6506 0 0 0.0772 29.27 223.60)" fill="#1414ff">R</text>
<text class="g" transform="matrix(0.7013 0 0 0.0801 29.63 224.15)" fill="#1a961f">T</text>
<text class="g" transform="matrix(0.7298 0 0 6.8474 33.65 222.31)" fill="#111111">P</text>
<text class="g" transform="matrix(0.6506 0 0 0.1216 33.70 223.15)" fill="#1414ff">R</text>
<text class="g" transform="matrix(0.8048 0 0 0.0729 33.60 223.65)" fill="#111111">L</text>
<text class="g" transform="matrix(0.6120 0 0 0.0716 33.89 224.15)" fill="#1a961f">G</text>
<text class="g" transform="matrix(0.5944 0 0 0.5085 38.33 211.35)" fill="#8a0f9a">Q</text>
<text class="g" transform="matrix(0.6893 0 0 0.6602 38.37 216.96)" fill="#1a961f">S</text>
<text class="g" transform="matrix(0.7361 0 0 0.3218 38.08 219.23)" fill="#ff1414">E</text>
<text class="g" transform="matrix(0.6393 0 0 0.3039 38.14 221.33)" fill="#1414ff">K</text>
<text class="g" transform="matrix(0.6322 0 0 0.1788 38.53 222.56)" fill="#111111">V</text>
<text class="g" transform="matrix(0.8048 0 0 0.1073 38.03 223.29)" fill="#111111">L</text>
<text class="g" transform="matrix(0.7025 0 0 0.1251 38.10 224.15)" fill="#8a0f9a">N</text>
<text class="g" transform="matrix(0.6322 0 0 5.1310 42.96 220.96)" fill="#111111">V</text>
<text class="g" transform="matrix(0.7025 0 0 0.2002 42.53 222.33)" fill="#1414ff">H</text>
<text class="g" transform="matrix(0.6893 0 0 0.1167 42.80 223.15)" fill="#1a961f">S</text>
<text class="g" transform="matrix(0.8048 0 0 0.0721 42.46 223.66)" fill="#111111">L</text>
<text class="g" transform="matrix(0.7025 0 0 0.0724 42.53 224.15)" fill="#8a0f9a">N</text>
<text class="g" transform="matrix(0.6156 0 0 0.1073 47.28 223.66)" fill="#111111">A</text>
<text class="g" transform="matrix(0.7025 0 0 0.0715 46.96 224.15)" fill="#1414ff">H</text>
<text class="g" transform="matrix(0.8048 0 0 1.3409 51.32 217.02)" fill="#111111">L</text>
<text class="g" transform="matrix(0.7361 0 0 0.2682 51.37 218.87)" fill="#ff1414">E</text>
<text class="g" transform="matrix(0.6120 0 0 0.2606 51.61 220.68)" fill="#1a961f">G</text>
<text class="g" transform="matrix(0.6393 0 0 0.1788 51.43 221.94)" fill="#1414ff">K</text>
<text class="g" transform="matrix(0.6734 0 0 0.1430 51.41 222.92)" fill="#ff1414">D</text>
<text class="g" transform="matrix(0.7013 0 0 0.0858 51.78 223.51)" fill="#1a961f">T</text>
<text class="g" transform="matrix(0.5944 0 0 0.0715 51.62 224.01)" fill="#8a0f9a">Q</text>
<text class="g" transform="matrix(0.6893 0 0 0.4343 56.09 219.44)" fill="#1a961f">S</text>
<text class="g" transform="matrix(0.6156 0 0 0.2682 56.14 221.33)" fill="#111111">A</text>
<text class="g" transform="matrix(0.8048 0 0 0.1788 55.75 222.56)" fill="#111111">L</text>
<text class="g" transform="matrix(0.6734 0 0 0.1073 55.84 223.29)" fill="#ff1414">D</text>
<text class="g" transform="matrix(0.7298 0 0 0.1251 55.80 224.15)" fill="#111111">P</text>
<text class="g" transform="matrix(0.8048 0 0 0.6257 60.18 217.64)" fill="#111111">L</text>
<text class="g" transform="matrix(0.6393 0 0 0.3576 60.29 220.09)" fill="#1414ff">K</text>
<text class="g" transform="matrix(0.7361 0 0 0.2682 60.23 221.94)" fill="#ff1414">E</text>
<text class="g" transform="matrix(0.6322 0 0 0.1430 60.68 222.92)" fill="#111111">V</text>
<text class="g" transform="matrix(0.6120 0 0 0.0834 60.47 223.51)" fill="#1a961f">G</text>
<text class="g" transform="matrix(0.7025 0 0 0.0930 60.25 224.15)" fill="#8a0f9a">N</text>
<text class="g" transform="matrix(0.6516 0 0 2.6102 65.04 213.45)" fill="#1a961f">Y</text>
<text class="g" transform="matrix(0.7025 0 0 0.4827 64.68 216.77)" fill="#1414ff">H</text>
<text class="g" transform="matrix(0.7013 0 0 0.5721 65.07 220.71)" fill="#1a961f">T</text>
<text class="g" transform="matrix(0.6120 0 0 0.2085 64.90 222.17)" fill="#1a961f">G</text>
<text class="g" transform="matrix(0.5944 0 0 0.0989 64.91 222.88)" fill="#8a0f9a">Q</text>
<text class="g" transform="matrix(0.7361 0 0 0.0772 64.66 223.60)" fill="#ff1414">E</text>
<text class="g" transform="matrix(0.7298 0 0 0.0801 64.66 224.15)" fill="#111111">P</text>
<text class="g" transform="matrix(0.6322 0 0 0.9475 69.54 208.53)" fill="#111111">V</text>
<text class="g" transform="matrix(0.8048 0 0 1.0548 69.04 215.79)" fill="#111111">L</text>
<text class="g" transform="matrix(0.7013 0 0 0.7151 69.50 220.71)" fill="#1a961f">T</text>
<text class="g" transform="matrix(0.6734 0 0 0.2145 69.13 222.19)" fill="#ff1414">D</text>
<text class="g" transform="matrix(0.6120 0 0 0.1251 69.33 223.06)" fill="#1a961f">G</text>
<text class="g" transform="matrix(0.6506 0 0 0.0772 69.14 223.60)" fill="#1414ff">R</text>
<text class="g" transform="matrix(0.7025 0 0 0.0801 69.11 224.15)" fill="#8a0f9a">N</text>
<text class="g" transform="matrix(0.8048 0 0 2.6817 73.47 212.35)" fill="#111111">L</text>
<text class="g" transform="matrix(0.8141 0 0 0.6436 73.47 216.77)" fill="#111111">F</text>
<text class="g" transform="matrix(0.6317 0 0 0.4691 73.75 220.05)" fill="#1a961f">C</text>
<text class="g" transform="matrix(0.6393 0 0 0.2503 73.58 221.82)" fill="#1414ff">K</text>
<text class="g" transform="matrix(0.6506 0 0 0.1502 73.57 222.85)" fill="#1414ff">R</text>
<text class="g" transform="matrix(0.7298 0 0 0.0901 73.52 223.47)" fill="#111111">P</text>
<text class="g" transform="matrix(0.5944 0 0 0.0764 73.77 224.00)" fill="#8a0f9a">Q</text>
<text class="g" transform="matrix(0.7298 0 0 1.9666 77.95 214.56)" fill="#111111">P</text>
<text class="g" transform="matrix(0.6317 0 0 0.8686 78.18 220.63)" fill="#1a961f">C</text>
<text class="g" transform="matrix(0.6156 0 0 0.2145 78.29 222.19)" fill="#111111">A</text>
<text class="g" transform="matrix(0.5944 0 0 0.0989 78.20 222.88)" fill="#8a0f9a">Q</text>
<text class="g" transform="matrix(0.6120 0 0 0.0751 78.19 223.60)" fill="#1a961f">G</text>
<text class="g" transform="matrix(0.6734 0 0 0.0801 77.99 224.15)" fill="#ff1414">D</text>
<text class="g" transform="matrix(0.7298 0 0 6.2574 82.38 220.10)" fill="#111111">P</text>
<text class="g" transform="matrix(0.7025 0 0 0.2503 82.40 221.82)" fill="#8a0f9a">N</text>
<text class="g" transform="matrix(0.6506 0 0 0.1502 82.43 222.85)" fill="#1414ff">R</text>
<text class="g" transform="matrix(0.6322 0 0 0.0901 82.83 223.47)" fill="#111111">V</text>
<text class="g" transform="matrix(0.8048 0 0 0.0994 82.33 224.15)" fill="#111111">L</text>
<text class="g" transform="matrix(0.7298 0 0 1.5375 86.81 212.10)" fill="#111111">P</text>
<text class="g" transform="matrix(0.6893 0 0 0.6602 87.10 216.71)" fill="#1a961f">S</text>
<text class="g" transform="matrix(0.6393 0 0 0.3933 86.87 219.48)" fill="#1414ff">K</text>
<text class="g" transform="matrix(0.6322 0 0 0.2861 87.26 221.45)" fill="#111111">V</text>
<text class="g" transform="matrix(0.7025 0 0 0.1716 86.83 222.63)" fill="#1414ff">H</text>
<text class="g" transform="matrix(0.7013 0 0 0.1030 87.22 223.34)" fill="#1a961f">T</text>
<text class="g" transform="matrix(0.6506 0 0 0.1187 86.86 224.15)" fill="#1414ff">R</text>
<text class="g" transform="matrix(0.6506 0 0 0.4648 91.29 213.45)" fill="#1414ff">R</text>
<text class="g" transform="matrix(0.6893 0 0 0.4691 91.53 216.73)" fill="#1a961f">S</text>
<text class="g" transform="matrix(0.6393 0 0 0.3933 91.30 219.48)" fill="#1414ff">K</text>
<text class="g" transform="matrix(0.6734 0 0 0.2861 91.28 221.45)" fill="#ff1414">D</text>
<text class="g" transform="matrix(0.6120 0 0 0.1668 91.48 222.61)" fill="#1a961f">G</text>
<text class="g" transform="matrix(0.7025 0 0 0.1030 91.26 223.34)" fill="#8a0f9a">N</text>
<text class="g" transform="matrix(0.6156 0 0 0.1187 91.58 224.15)" fill="#111111">A</text>
<text class="g" transform="matrix(0.7361 0 0 3.1644 95.67 212.96)" fill="#ff1414">E</text>
<text class="g" transform="matrix(0.6734 0 0 0.5542 95.71 216.77)" fill="#ff1414">D</text>
<text class="g" transform="matrix(0.6393 0 0 0.3933 95.73 219.48)" fill="#1414ff">K</text>
<text class="g" transform="matrix(0.6506 0 0 0.2861 95.72 221.45)" fill="#1414ff">R</text>
<text class="g" transform="matrix(0.7025 0 0 0.1716 95.69 222.63)" fill="#8a0f9a">N</text>
<text class="g" transform="matrix(0.7298 0 0 0.1030 95.67 223.34)" fill="#111111">P</text>
<text class="g" transform="matrix(0.5944 0 0 0.0913 95.92 223.97)" fill="#8a0f9a">Q</text>
<text class="g" transform="matrix(0.7361 0 0 2.9320 100.10 214.07)" fill="#ff1414">E</text>
<text class="g" transform="matrix(0.5944 0 0 0.5360 100.35 217.81)" fill="#8a0f9a">Q</text>
<text class="g" transform="matrix(0.7298 0 0 0.3218 100.10 221.08)" fill="#111111">P</text>
<text class="g" transform="matrix(0.6393 0 0 0.1931 100.16 222.41)" fill="#1414ff">K</text>
<text class="g" transform="matrix(0.7025 0 0 0.1159 100.12 223.20)" fill="#1414ff">H</text>
<text class="g" transform="matrix(0.6506 0 0 0.0715 100.15 223.70)" fill="#1414ff">R</text>
<text class="g" transform="matrix(0.8048 0 0 0.0665 100.05 224.15)" fill="#111111">L</text>
<text class="g" transform="matrix(0.8048 0 0 2.3063 104.48 214.07)" fill="#111111">L</text>
<text class="g" transform="matrix(0.6156 0 0 0.6973 104.87 218.87)" fill="#111111">A</text>
<text class="g" transform="matrix(0.7013 0 0 0.3218 104.94 221.08)" fill="#1a961f">T</text>
<text class="g" transform="matrix(0.6734 0 0 0.1931 104.57 222.41)" fill="#ff1414">D</text>
<text class="g" transform="matrix(0.7025 0 0 0.1159 104.55 223.20)" fill="#8a0f9a">N</text>
<text class="g" transform="matrix(0.6506 0 0 0.0715 104.58 223.70)" fill="#1414ff">R</text>
<text class="g" transform="matrix(0.7025 0 0 0.0665 104.55 224.15)" fill="#1414ff">H</text>
<text class="g" transform="matrix(0.6893 0 0 0.6949 109.25 213.39)" fill="#1a961f">S</text>
<text class="g" transform="matrix(0.6156 0 0 0.7866 109.30 218.87)" fill="#111111">A</text>
<text class="g" transform="matrix(0.6734 0 0 0.3218 109.00 221.08)" fill="#ff1414">D</text>
<text class="g" transform="matrix(0.6322 0 0 0.1931 109.41 222.41)" fill="#111111">V</text>
<text class="g" transform="matrix(0.7025 0 0 0.1159 108.98 223.20)" fill="#8a0f9a">N</text>
<text class="g" transform="matrix(0.6120 0 0 0.0695 109.20 223.69)" fill="#1a961f">G</text>
<text class="g" transform="matrix(0.8048 0 0 0.0665 108.91 224.15)" fill="#111111">L</text>
<text class="g" transform="matrix(0.8048 0 0 0.7866 113.34 213.45)" fill="#111111">L</text>
<text class="g" transform="matrix(0.6393 0 0 0.7866 113.45 218.87)" fill="#1414ff">K</text>
<text class="g" transform="matrix(0.7025 0 0 0.3218 113.41 221.08)" fill="#1414ff">H</text>
<text class="g" transform="matrix(0.7361 0 0 0.1931 113.39 222.41)" fill="#ff1414">E</text>
<text class="g" transform="matrix(0.6734 0 0 0.1159 113.43 223.20)" fill="#ff1414">D</text>
<text class="g" transform="matrix(0.6156 0 0 0.0715 113.73 223.70)" fill="#111111">A</text>
<text class="g" transform="matrix(0.6120 0 0 0.0646 113.63 224.15)" fill="#1a961f">G</text>
<text class="g" transform="matrix(0.7025 0 0 1.0191 117.84 212.96)" fill="#8a0f9a">N</text>
<text class="g" transform="matrix(0.6893 0 0 0.5386 118.11 216.72)" fill="#1a961f">S</text>
<text class="g" transform="matrix(0.7361 0 0 0.3933 117.82 219.48)" fill="#ff1414">E</text>
<text class="g" transform="matrix(0.6734 0 0 0.2861 117.86 221.45)" fill="#ff1414">D</text>
<text class="g" transform="matrix(0.6393 0 0 0.1716 117.88 222.63)" fill="#1414ff">K</text>
<text class="g" transform="matrix(0.6120 0 0 0.1001 118.06 223.33)" fill="#1a961f">G</text>
<text class="g" transform="matrix(0.6322 0 0 0.1187 118.27 224.15)" fill="#111111">V</text>
<text class="g" transform="matrix(0.5944 0 0 0.3161 122.50 214.55)" fill="#8a0f9a">Q</text>
<text class="g" transform="matrix(0.6393 0 0 0.5363 122.31 218.87)" fill="#1414ff">K</text>
<text class="g" transform="matrix(0.7025 0 0 0.3218 122.27 221.08)" fill="#1414ff">H</text>
<text class="g" transform="matrix(0.6893 0 0 0.1876 122.54 222.39)" fill="#1a961f">S</text>
<text class="g" transform="matrix(0.6120 0 0 0.1126 122.49 223.19)" fill="#1a961f">G</text>
<text class="g" transform="matrix(0.6322 0 0 0.0715 122.70 223.70)" fill="#111111">V</text>
<text class="g" transform="matrix(0.7013 0 0 0.0665 122.66 224.15)" fill="#1a961f">T</text>
<text class="g" transform="matrix(0.7361 0 0 0.6436 126.68 212.96)" fill="#ff1414">E</text>
<text class="g" transform="matrix(0.6322 0 0 0.6257 127.13 217.27)" fill="#111111">V</text>
<text class="g" transform="matrix(0.6893 0 0 0.3996 126.97 220.06)" fill="#1a961f">S</text>
<text class="g" transform="matrix(0.7025 0 0 0.2503 126.70 221.82)" fill="#1414ff">H</text>
<text class="g" transform="matrix(0.7025 0 0 0.1502 126.70 222.85)" fill="#8a0f9a">N</text>
<text class="g" transform="matrix(0.6393 0 0 0.0901 126.74 223.47)" fill="#1414ff">K</text>
<text class="g" transform="matrix(0.6734 0 0 0.0994 126.72 224.15)" fill="#ff1414">D</text>
<text class="g" transform="matrix(0.6516 0 0 0.4470 131.49 217.63)" fill="#1a961f">Y</text>
<text class="g" transform="matrix(0.7013 0 0 0.4470 131.52 220.71)" fill="#1a961f">T</text>
<text class="g" transform="matrix(0.7298 0 0 0.2145 131.11 222.19)" fill="#111111">P</text>
<text class="g" transform="matrix(0.6506 0 0 0.1287 131.16 223.07)" fill="#1414ff">R</text>
<text class="g" transform="matrix(0.6893 0 0 0.0751 131.40 223.60)" fill="#1a961f">S</text>
<text class="g" transform="matrix(0.6734 0 0 0.0801 131.15 224.15)" fill="#ff1414">D</text>
<text class="g" transform="matrix(0.6322 0 0 1.6448 135.99 212.35)" fill="#111111">V</text>
<text class="g" transform="matrix(0.6156 0 0 0.8045 135.88 217.88)" fill="#111111">A</text>
<text class="g" transform="matrix(0.6317 0 0 0.3996 135.77 220.67)" fill="#1a961f">C</text>
<text class="g" transform="matrix(0.7298 0 0 0.2145 135.54 222.19)" fill="#111111">P</text>
<text class="g" transform="matrix(0.6393 0 0 0.1287 135.60 223.07)" fill="#1414ff">K</text>
<text class="g" transform="matrix(0.7025 0 0 0.0772 135.56 223.60)" fill="#1414ff">H</text>
<text class="g" transform="matrix(0.6734 0 0 0.0801 135.58 224.15)" fill="#ff1414">D</text>
<text class="g" transform="matrix(0.7013 0 0 2.6102 140.38 209.15)" fill="#1a961f">T</text>
<text class="g" transform="matrix(0.6893 0 0 1.6330 140.26 220.55)" fill="#1a961f">S</text>
<text class="g" transform="matrix(0.5944 0 0 0.1649 140.22 221.86)" fill="#8a0f9a">Q</text>
<text class="g" transform="matrix(0.6120 0 0 0.1251 140.21 223.06)" fill="#1a961f">G</text>
<text class="g" transform="matrix(0.8048 0 0 0.0772 139.92 223.60)" fill="#111111">L</text>
<text class="g" transform="matrix(0.6156 0 0 0.0801 140.31 224.15)" fill="#111111">A</text>
<text class="g" transform="matrix(0.8048 0 0 2.9320 144.35 209.15)" fill="#111111">L</text>
<text class="g" transform="matrix(0.6322 0 0 1.1084 144.85 216.77)" fill="#111111">V</text>
<text class="g" transform="matrix(0.6120 0 0 0.4308 144.64 219.78)" fill="#1a961f">G</text>
<text class="g" transform="matrix(0.6734 0 0 0.2660 144.44 221.65)" fill="#ff1414">D</text>
<text class="g" transform="matrix(0.7013 0 0 0.1596 144.81 222.75)" fill="#1a961f">T</text>
<text class="g" transform="matrix(0.7361 0 0 0.0958 144.40 223.41)" fill="#ff1414">E</text>
<text class="g" transform="matrix(0.7025 0 0 0.1079 144.42 224.15)" fill="#1414ff">H</text>
<text class="g" transform="matrix(0.7013 0 0 4.1120 149.24 215.79)" fill="#1a961f">T</text>
<text class="g" transform="matrix(0.6156 0 0 0.5363 149.17 219.48)" fill="#111111">A</text>
<text class="g" transform="matrix(0.7298 0 0 0.2861 148.83 221.45)" fill="#111111">P</text>
<text class="g" transform="matrix(0.8048 0 0 0.1716 148.78 222.63)" fill="#111111">L</text>
<text class="g" transform="matrix(0.7025 0 0 0.1030 148.85 223.34)" fill="#8a0f9a">N</text>
<text class="g" transform="matrix(0.6893 0 0 0.1154 149.12 224.14)" fill="#1a961f">S</text>
<text class="g" transform="matrix(0.6317 0 0 6.1673 153.49 221.09)" fill="#1a961f">C</text>
<text class="g" transform="matrix(0.7013 0 0 0.1573 153.67 222.78)" fill="#1a961f">T</text>
<text class="g" transform="matrix(0.6322 0 0 0.0944 153.71 223.43)" fill="#111111">V</text>
<text class="g" transform="matrix(0.7298 0 0 0.1058 153.26 224.15)" fill="#111111">P</text>
<text class="g" transform="matrix(0.8048 0 0 2.9320 157.64 211.36)" fill="#111111">L</text>
<text class="g" transform="matrix(1.2616 0 0 0.9475 158.49 217.88)" fill="#111111">I</text>
<text class="g" transform="matrix(0.7025 0 0 0.3790 157.71 220.49)" fill="#8a0f9a">N</text>
<text class="g" transform="matrix(0.6506 0 0 0.2274 157.74 222.05)" fill="#1414ff">R</text>
<text class="g" transform="matrix(0.7025 0 0 0.1364 157.71 222.99)" fill="#1414ff">H</text>
<text class="g" transform="matrix(0.6322 0 0 0.0819 158.14 223.56)" fill="#111111">V</text>
<text class="g" transform="matrix(0.6734 0 0 0.0870 157.73 224.15)" fill="#ff1414">D</text>
<text class="g" transform="matrix(0.6322 0 0 4.5232 162.57 221.69)" fill="#111111">V</text>
<text class="g" transform="matrix(0.7361 0 0 0.1573 162.12 222.78)" fill="#ff1414">E</text>
<text class="g" transform="matrix(0.6893 0 0 0.0917 162.41 223.42)" fill="#1a961f">S</text>
<text class="g" transform="matrix(0.7013 0 0 0.1058 162.53 224.15)" fill="#1a961f">T</text>
<text class="g" transform="matrix(0.6393 0 0 0.7509 166.61 210.25)" fill="#1414ff">K</text>
<text class="g" transform="matrix(0.6506 0 0 0.6257 166.60 214.56)" fill="#1414ff">R</text>
<text class="g" transform="matrix(0.7361 0 0 0.5363 166.55 218.25)" fill="#ff1414">E</text>
<text class="g" transform="matrix(0.6893 0 0 0.3475 166.84 220.68)" fill="#1a961f">S</text>
<text class="g" transform="matrix(0.7025 0 0 0.2145 166.57 222.19)" fill="#8a0f9a">N</text>
<text class="g" transform="matrix(0.6322 0 0 0.1287 167.00 223.07)" fill="#111111">V</text>
<text class="g" transform="matrix(0.5944 0 0 0.0594 166.80 223.49)" fill="#8a0f9a">Q</text>
<text class="g" transform="matrix(0.7298 0 0 0.0801 166.55 224.15)" fill="#111111">P</text>
<text class="g" transform="matrix(0.6120 0 0 3.0402 171.22 213.65)" fill="#1a961f">G</text>
<text class="g" transform="matrix(0.6734 0 0 0.6257 171.02 218.25)" fill="#ff1414">D</text>
<text class="g" transform="matrix(0.7025 0 0 0.3576 171.00 220.71)" fill="#8a0f9a">N</text>
<text class="g" transform="matrix(0.7361 0 0 0.2145 170.98 222.19)" fill="#ff1414">E</text>
<text class="g" transform="matrix(0.6393 0 0 0.1287 171.04 223.07)" fill="#1414ff">K</text>
<text class="g" transform="matrix(0.5944 0 0 0.0594 171.23 223.49)" fill="#8a0f9a">Q</text>
<text class="g" transform="matrix(0.6506 0 0 0.0801 171.03 224.15)" fill="#1414ff">R</text>
<text class="g" transform="matrix(0.8141 0 0 6.4540 175.36 221.57)" fill="#111111">F</text>
<text class="g" transform="matrix(0.8048 0 0 0.1645 175.36 222.70)" fill="#111111">L</text>
<text class="g" transform="matrix(0.6506 0 0 0.0987 175.46 223.38)" fill="#1414ff">R</text>
<text class="g" transform="matrix(0.7361 0 0 0.1123 175.41 224.15)" fill="#ff1414">E</text>
<text class="g" transform="matrix(0.6516 0 0 1.1084 180.22 210.87)" fill="#1a961f">Y</text>
<text class="g" transform="matrix(0.6893 0 0 0.9729 180.13 217.66)" fill="#1a961f">S</text>
<text class="g" transform="matrix(0.7025 0 0 0.4291 179.86 220.71)" fill="#8a0f9a">N</text>
<text class="g" transform="matrix(0.6506 0 0 0.2145 179.89 222.19)" fill="#1414ff">R</text>
<text class="g" transform="matrix(0.5944 0 0 0.0989 180.09 222.88)" fill="#8a0f9a">Q</text>
<text class="g" transform="matrix(0.6322 0 0 0.0772 180.29 223.60)" fill="#111111">V</text>
<text class="g" transform="matrix(0.8048 0 0 0.0801 179.79 224.15)" fill="#111111">L</text>
<text class="g" transform="matrix(0.7298 0 0 6.6507 184.27 220.96)" fill="#111111">P</text>
<text class="g" transform="matrix(0.8048 0 0 0.2002 184.22 222.33)" fill="#111111">L</text>
<text class="g" transform="matrix(0.6506 0 0 0.1201 184.32 223.16)" fill="#1414ff">R</text>
<text class="g" transform="matrix(0.6393 0 0 0.0721 184.33 223.66)" fill="#1414ff">K</text>
<text class="g" transform="matrix(0.6322 0 0 0.0724 184.72 224.15)" fill="#111111">V</text>
<text class="g" transform="matrix(0.6120 0 0 0.6080 188.94 215.73)" fill="#1a961f">G</text>
<text class="g" transform="matrix(0.6893 0 0 0.4691 188.99 219.07)" fill="#1a961f">S</text>
<text class="g" transform="matrix(0.6393 0 0 0.3218 188.76 221.33)" fill="#1414ff">K</text>
<text class="g" transform="matrix(0.6506 0 0 0.1788 188.75 222.56)" fill="#1414ff">R</text>
<text class="g" transform="matrix(0.8048 0 0 0.1073 188.65 223.29)" fill="#111111">L</text>
<text class="g" transform="matrix(0.7025 0 0 0.1251 188.72 224.15)" fill="#8a0f9a">N</text>
<text class="g" transform="matrix(0.6734 0 0 3.0393 193.17 214.56)" fill="#ff1414">D</text>
<text class="g" transform="matrix(0.7361 0 0 0.5721 193.13 218.50)" fill="#ff1414">E</text>
<text class="g" transform="matrix(0.6393 0 0 0.3576 193.19 220.96)" fill="#1414ff">K</text>
<text class="g" transform="matrix(0.6120 0 0 0.1946 193.37 222.31)" fill="#1a961f">G</text>
<text class="g" transform="matrix(0.6506 0 0 0.1201 193.18 223.16)" fill="#1414ff">R</text>
<text class="g" transform="matrix(0.7013 0 0 0.0721 193.54 223.66)" fill="#1a961f">T</text>
<text class="g" transform="matrix(0.5944 0 0 0.0556 193.38 224.04)" fill="#8a0f9a">Q</text>
<text class="g" transform="matrix(0.8048 0 0 3.3075 197.51 212.72)" fill="#111111">L</text>
<text class="g" transform="matrix(0.6322 0 0 1.0191 198.01 219.73)" fill="#111111">V</text>
<text class="g" transform="matrix(0.6734 0 0 0.2717 197.60 221.60)" fill="#ff1414">D</text>
<text class="g" transform="matrix(0.6120 0 0 0.1584 197.80 222.70)" fill="#1a961f">G</text>
<text class="g" transform="matrix(0.7025 0 0 0.0978 197.58 223.39)" fill="#1414ff">H</text>
<text class="g" transform="matrix(0.7025 0 0 0.1110 197.58 224.15)" fill="#8a0f9a">N</text>
<text class="g" transform="matrix(0.6322 0 0 0.5363 202.44 215.79)" fill="#111111">V</text>
<text class="g" transform="matrix(0.6893 0 0 0.4691 202.28 219.07)" fill="#1a961f">S</text>
<text class="g" transform="matrix(0.6393 0 0 0.3075 202.05 221.23)" fill="#1414ff">K</text>
<text class="g" transform="matrix(0.7361 0 0 0.1845 201.99 222.50)" fill="#ff1414">E</text>
<text class="g" transform="matrix(0.6156 0 0 0.1107 202.33 223.26)" fill="#111111">A</text>
<text class="g" transform="matrix(0.6734 0 0 0.0715 202.03 223.75)" fill="#ff1414">D</text>
<text class="g" transform="matrix(0.7025 0 0 0.0588 202.01 224.15)" fill="#8a0f9a">N</text>
<text class="g" transform="matrix(0.6322 0 0 5.1310 206.87 220.34)" fill="#111111">V</text>
<text class="g" transform="matrix(0.6120 0 0 0.2293 206.66 221.94)" fill="#1a961f">G</text>
<text class="g" transform="matrix(0.7013 0 0 0.1416 206.83 222.94)" fill="#1a961f">T</text>
<text class="g" transform="matrix(0.7298 0 0 0.0850 206.42 223.52)" fill="#111111">P</text>
<text class="g" transform="matrix(0.6156 0 0 0.0917 206.76 224.15)" fill="#111111">A</text>
<text class="g" transform="matrix(0.7361 0 0 0.5542 210.85 212.72)" fill="#ff1414">E</text>
<text class="g" transform="matrix(0.7025 0 0 0.4470 210.87 215.79)" fill="#8a0f9a">N</text>
<text class="g" transform="matrix(0.6393 0 0 0.5721 210.91 219.73)" fill="#1414ff">K</text>
<text class="g" transform="matrix(0.6156 0 0 0.2717 211.19 221.60)" fill="#111111">A</text>
<text class="g" transform="matrix(0.5944 0 0 0.1253 211.10 222.47)" fill="#8a0f9a">Q</text>
<text class="g" transform="matrix(0.6322 0 0 0.0978 211.30 223.39)" fill="#111111">V</text>
<text class="g" transform="matrix(0.6506 0 0 0.1110 210.90 224.15)" fill="#1414ff">R</text>
<text class="g" transform="matrix(0.4385 0 0 6.9367 215.77 222.92)" fill="#111111">W</text>
<text class="g" transform="matrix(0.7025 0 0 0.0858 215.30 223.51)" fill="#8a0f9a">N</text>
<text class="g" transform="matrix(0.6120 0 0 0.0903 215.52 224.15)" fill="#1a961f">G</text>
<text class="g" transform="matrix(0.8048 0 0 1.2336 219.66 211.36)" fill="#111111">L</text>
<text class="g" transform="matrix(0.7361 0 0 0.6436 219.71 215.79)" fill="#ff1414">E</text>
<text class="g" transform="matrix(0.7013 0 0 0.3933 220.12 218.50)" fill="#1a961f">T</text>
<text class="g" transform="matrix(0.6393 0 0 0.3218 219.77 220.71)" fill="#1414ff">K</text>
<text class="g" transform="matrix(0.5944 0 0 0.1649 219.96 221.86)" fill="#8a0f9a">Q</text>
<text class="g" transform="matrix(0.6893 0 0 0.1251 220.00 223.06)" fill="#1a961f">S</text>
<text class="g" transform="matrix(0.6156 0 0 0.0772 220.05 223.60)" fill="#111111">A</text>
<text class="g" transform="matrix(0.6506 0 0 0.0801 219.76 224.15)" fill="#1414ff">R</text>
<text class="g" transform="matrix(0.7025 0 0 0.5006 224.16 216.41)" fill="#8a0f9a">N</text>
<text class="g" transform="matrix(0.6393 0 0 0.4470 224.20 219.48)" fill="#1414ff">K</text>
<text class="g" transform="matrix(0.7013 0 0 0.2861 224.55 221.45)" fill="#1a961f">T</text>
<text class="g" transform="matrix(0.6156 0 0 0.1716 224.48 222.63)" fill="#111111">A</text>
<text class="g" transform="matrix(0.8048 0 0 0.1030 224.09 223.34)" fill="#111111">L</text>
<text class="g" transform="matrix(0.6120 0 0 0.1154 224.38 224.14)" fill="#1a961f">G</text>
<text class="g" transform="matrix(0.7025 0 0 1.6627 228.59 212.96)" fill="#8a0f9a">N</text>
<text class="g" transform="matrix(0.6734 0 0 0.5542 228.61 216.77)" fill="#ff1414">D</text>
<text class="g" transform="matrix(0.6393 0 0 0.3933 228.63 219.48)" fill="#1414ff">K</text>
<text class="g" transform="matrix(0.6156 0 0 0.2861 228.91 221.45)" fill="#111111">A</text>
<text class="g" transform="matrix(0.7361 0 0 0.1716 228.57 222.63)" fill="#ff1414">E</text>
<text class="g" transform="matrix(0.6506 0 0 0.1030 228.62 223.34)" fill="#1414ff">R</text>
<text class="g" transform="matrix(0.7298 0 0 0.1187 228.57 224.15)" fill="#111111">P</text>
<text class="g" transform="matrix(0.6120 0 0 1.6504 233.24 211.94)" fill="#1a961f">G</text>
<text class="g" transform="matrix(0.6734 0 0 0.6794 233.04 216.77)" fill="#ff1414">D</text>
<text class="g" transform="matrix(0.6393 0 0 0.3933 233.06 219.48)" fill="#1414ff">K</text>
<text class="g" transform="matrix(0.6506 0 0 0.2861 233.05 221.45)" fill="#1414ff">R</text>
<text class="g" transform="matrix(0.8048 0 0 0.1716 232.95 222.63)" fill="#111111">L</text>
<text class="g" transform="matrix(0.7298 0 0 0.1030 233.00 223.34)" fill="#111111">P</text>
<text class="g" transform="matrix(0.7025 0 0 0.1187 233.02 224.15)" fill="#8a0f9a">N</text>
<text class="g" transform="matrix(0.5944 0 0 0.6459 237.68 212.06)" fill="#8a0f9a">Q</text>
<text class="g" transform="matrix(0.6393 0 0 0.5006 237.49 216.77)" fill="#1414ff">K</text>
<text class="g" transform="matrix(0.7361 0 0 0.3933 237.43 219.48)" fill="#ff1414">E</text>
<text class="g" transform="matrix(0.8048 0 0 0.2861 237.38 221.45)" fill="#111111">L</text>
<text class="g" transform="matrix(0.6322 0 0 0.1716 237.88 222.63)" fill="#111111">V</text>
<text class="g" transform="matrix(0.7025 0 0 0.1030 237.45 223.34)" fill="#1414ff">H</text>
<text class="g" transform="matrix(0.7298 0 0 0.1187 237.43 224.15)" fill="#111111">P</text>
<text class="g" transform="matrix(0.7298 0 0 1.0369 241.86 214.07)" fill="#111111">P</text>
<text class="g" transform="matrix(0.7361 0 0 0.5542 241.86 217.88)" fill="#ff1414">E</text>
<text class="g" transform="matrix(0.7013 0 0 0.4112 242.27 220.71)" fill="#1a961f">T</text>
<text class="g" transform="matrix(0.7025 0 0 0.2145 241.88 222.19)" fill="#1414ff">H</text>
<text class="g" transform="matrix(0.6120 0 0 0.1251 242.10 223.06)" fill="#1a961f">G</text>
<text class="g" transform="matrix(0.6156 0 0 0.0772 242.20 223.60)" fill="#111111">A</text>
<text class="g" transform="matrix(0.6322 0 0 0.0801 242.31 224.15)" fill="#111111">V</text>
<text class="g" transform="matrix(0.6322 0 0 0.5542 246.74 208.04)" fill="#111111">V</text>
<text class="g" transform="matrix(0.8048 0 0 1.2694 246.24 216.77)" fill="#111111">L</text>
<text class="g" transform="matrix(0.6734 0 0 0.4434 246.33 219.82)" fill="#ff1414">D</text>
<text class="g" transform="matrix(0.7298 0 0 0.2660 246.29 221.65)" fill="#111111">P</text>
<text class="g" transform="matrix(0.6120 0 0 0.1551 246.53 222.74)" fill="#1a961f">G</text>
<text class="g" transform="matrix(0.5944 0 0 0.0736 246.54 223.27)" fill="#8a0f9a">Q</text>
<text class="g" transform="matrix(0.7025 0 0 0.1079 246.31 224.15)" fill="#8a0f9a">N</text>
<text class="g" transform="matrix(0.7298 0 0 1.1084 250.72 214.07)" fill="#111111">P</text>
<text class="g" transform="matrix(0.6893 0 0 0.4169 251.01 216.98)" fill="#1a961f">S</text>
<text class="g" transform="matrix(0.6393 0 0 0.3576 250.78 219.48)" fill="#1414ff">K</text>
<text class="g" transform="matrix(0.6506 0 0 0.2861 250.77 221.45)" fill="#1414ff">R</text>
<text class="g" transform="matrix(0.7361 0 0 0.1716 250.72 222.63)" fill="#ff1414">E</text>
<text class="g" transform="matrix(0.6734 0 0 0.1030 250.76 223.34)" fill="#ff1414">D</text>
<text class="g" transform="matrix(0.7025 0 0 0.1187 250.74 224.15)" fill="#1414ff">H</text>
<text class="g" transform="matrix(0.7361 0 0 0.5363 255.15 214.56)" fill="#ff1414">E</text>
<text class="g" transform="matrix(0.6893 0 0 0.4343 255.44 217.59)" fill="#1a961f">S</text>
<text class="g" transform="matrix(0.6393 0 0 0.3576 255.21 220.09)" fill="#1414ff">K</text>
<text class="g" transform="matrix(0.8048 0 0 0.2503 255.10 221.82)" fill="#111111">L</text>
<text class="g" transform="matrix(0.6322 0 0 0.1502 255.60 222.85)" fill="#111111">V</text>
<text class="g" transform="matrix(0.6156 0 0 0.0901 255.49 223.47)" fill="#111111">A</text>
<text class="g" transform="matrix(0.5944 0 0 0.0764 255.40 224.00)" fill="#8a0f9a">Q</text>
<text class="g" transform="matrix(0.6734 0 0 0.5363 259.62 214.56)" fill="#ff1414">D</text>
<text class="g" transform="matrix(0.6120 0 0 0.4343 259.82 217.59)" fill="#1a961f">G</text>
<text class="g" transform="matrix(0.6393 0 0 0.3576 259.64 220.09)" fill="#1414ff">K</text>
<text class="g" transform="matrix(0.7361 0 0 0.2503 259.58 221.82)" fill="#ff1414">E</text>
<text class="g" transform="matrix(0.8048 0 0 0.1502 259.53 222.85)" fill="#111111">L</text>
<text class="g" transform="matrix(0.6322 0 0 0.0901 260.03 223.47)" fill="#111111">V</text>
<text class="g" transform="matrix(0.7298 0 0 0.0994 259.58 224.15)" fill="#111111">P</text>
<text class="g" transform="matrix(0.7025 0 0 0.5542 264.03 215.17)" fill="#8a0f9a">N</text>
<text class="g" transform="matrix(0.6393 0 0 0.4827 264.07 218.50)" fill="#1414ff">K</text>
<text class="g" transform="matrix(0.6893 0 0 0.3336 264.30 220.83)" fill="#1a961f">S</text>
<text class="g" transform="matrix(0.5944 0 0 0.1583 264.26 221.96)" fill="#8a0f9a">Q</text>
<text class="g" transform="matrix(0.8048 0 0 0.1236 263.96 223.12)" fill="#111111">L</text>
<text class="g" transform="matrix(0.6734 0 0 0.0741 264.05 223.63)" fill="#ff1414">D</text>
<text class="g" transform="matrix(0.7298 0 0 0.0755 264.01 224.15)" fill="#111111">P</text>
<text class="g" transform="matrix(0.6516 0 0 3.1466 268.82 214.07)" fill="#1a961f">Y</text>
<text class="g" transform="matrix(0.6322 0 0 0.6079 268.89 218.25)" fill="#111111">V</text>
<text class="g" transform="matrix(0.7298 0 0 0.3576 268.44 220.71)" fill="#111111">P</text>
<text class="g" transform="matrix(0.6734 0 0 0.2145 268.48 222.19)" fill="#ff1414">D</text>
<text class="g" transform="matrix(0.6506 0 0 0.1287 268.49 223.07)" fill="#1414ff">R</text>
<text class="g" transform="matrix(0.6893 0 0 0.0751 268.73 223.60)" fill="#1a961f">S</text>
<text class="g" transform="matrix(0.6120 0 0 0.0778 268.68 224.15)" fill="#1a961f">G</text>
<text class="g" transform="matrix(0.6393 0 0 0.5006 272.93 215.79)" fill="#1414ff">K</text>
<text class="g" transform="matrix(0.5944 0 0 0.3436 273.12 218.19)" fill="#8a0f9a">Q</text>
<text class="g" transform="matrix(0.6893 0 0 0.3127 273.16 221.05)" fill="#1a961f">S</text>
<text class="g" transform="matrix(0.7025 0 0 0.1931 272.89 222.41)" fill="#8a0f9a">N</text>
<text class="g" transform="matrix(0.6506 0 0 0.1159 272.92 223.20)" fill="#1414ff">R</text>
<text class="g" transform="matrix(0.6120 0 0 0.0695 273.11 223.69)" fill="#1a961f">G</text>
<text class="g" transform="matrix(0.7298 0 0 0.0665 272.87 224.15)" fill="#111111">P</text>
<text class="g" transform="matrix(0.7013 0 0 3.0393 277.71 214.56)" fill="#1a961f">T</text>
<text class="g" transform="matrix(0.7025 0 0 0.7151 277.32 219.48)" fill="#8a0f9a">N</text>
<text class="g" transform="matrix(0.6734 0 0 0.2861 277.34 221.45)" fill="#ff1414">D</text>
<text class="g" transform="matrix(0.6120 0 0 0.1668 277.54 222.61)" fill="#1a961f">G</text>
<text class="g" transform="matrix(0.7025 0 0 0.1030 277.32 223.34)" fill="#1414ff">H</text>
<text class="g" transform="matrix(0.6322 0 0 0.1187 277.75 224.15)" fill="#111111">V</text>
<text class="g" transform="matrix(0.7013 0 0 2.3778 282.14 215.18)" fill="#1a961f">T</text>
<text class="g" transform="matrix(0.6893 0 0 0.5212 282.02 218.81)" fill="#1a961f">S</text>
<text class="g" transform="matrix(0.7361 0 0 0.3218 281.73 221.08)" fill="#ff1414">E</text>
<text class="g" transform="matrix(0.6120 0 0 0.1876 281.97 222.39)" fill="#1a961f">G</text>
<text class="g" transform="matrix(0.7025 0 0 0.1159 281.75 223.20)" fill="#8a0f9a">N</text>
<text class="g" transform="matrix(0.8048 0 0 0.0715 281.68 223.70)" fill="#111111">L</text>
<text class="g" transform="matrix(0.6734 0 0 0.0665 281.77 224.15)" fill="#ff1414">D</text>
<text class="g" transform="matrix(0.7298 0 0 0.7151 286.16 215.79)" fill="#111111">P</text>
<text class="g" transform="matrix(0.6156 0 0 0.4470 286.50 218.87)" fill="#111111">A</text>
<text class="g" transform="matrix(0.6120 0 0 0.3127 286.40 221.05)" fill="#1a961f">G</text>
<text class="g" transform="matrix(0.7013 0 0 0.1931 286.57 222.41)" fill="#1a961f">T</text>
<text class="g" transform="matrix(0.6393 0 0 0.1159 286.22 223.20)" fill="#1414ff">K</text>
<text class="g" transform="matrix(0.7025 0 0 0.0715 286.18 223.70)" fill="#1414ff">H</text>
<text class="g" transform="matrix(0.6322 0 0 0.0665 286.61 224.15)" fill="#111111">V</text>
<text class="g" transform="matrix(0.7298 0 0 3.3253 290.59 213.45)" fill="#111111">P</text>
<text class="g" transform="matrix(0.8048 0 0 0.6436 290.54 217.88)" fill="#111111">L</text>
<text class="g" transform="matrix(0.7025 0 0 0.3790 290.61 220.49)" fill="#1414ff">H</text>
<text class="g" transform="matrix(0.7025 0 0 0.2274 290.61 222.05)" fill="#8a0f9a">N</text>
<text class="g" transform="matrix(0.6156 0 0 0.1364 290.93 222.99)" fill="#111111">A</text>
<text class="g" transform="matrix(0.5944 0 0 0.0629 290.84 223.43)" fill="#8a0f9a">Q</text>
<text class="g" transform="matrix(0.6893 0 0 0.0846 290.88 224.15)" fill="#1a961f">S</text>
<text class="g" transform="matrix(0.6322 0 0 0.6079 295.47 218.25)" fill="#111111">V</text>
<text class="g" transform="matrix(0.8048 0 0 0.3576 294.97 220.71)" fill="#111111">L</text>
<text class="g" transform="matrix(0.7025 0 0 0.2145 295.04 222.19)" fill="#1414ff">H</text>
<text class="g" transform="matrix(0.6506 0 0 0.1287 295.07 223.07)" fill="#1414ff">R</text>
<text class="g" transform="matrix(0.7025 0 0 0.0772 295.04 223.60)" fill="#8a0f9a">N</text>
<text class="g" transform="matrix(0.6893 0 0 0.0778 295.31 224.15)" fill="#1a961f">S</text>
<text class="g" transform="matrix(0.8048 0 0 0.8582 299.40 214.56)" fill="#111111">L</text>
<text class="g" transform="matrix(0.7361 0 0 0.5363 299.45 218.25)" fill="#ff1414">E</text>
<text class="g" transform="matrix(0.5944 0 0 0.2749 299.70 220.17)" fill="#8a0f9a">Q</text>
<text class="g" transform="matrix(0.7025 0 0 0.2145 299.47 222.19)" fill="#8a0f9a">N</text>
<text class="g" transform="matrix(0.7298 0 0 0.1287 299.45 223.07)" fill="#111111">P</text>
<text class="g" transform="matrix(0.7013 0 0 0.0772 299.86 223.60)" fill="#1a961f">T</text>
<text class="g" transform="matrix(0.6156 0 0 0.0801 299.79 224.15)" fill="#111111">A</text>
<text class="g" transform="matrix(0.6734 0 0 1.7878 303.92 209.64)" fill="#ff1414">D</text>
<text class="g" transform="matrix(0.7361 0 0 1.3587 303.88 218.99)" fill="#ff1414">E</text>
<text class="g" transform="matrix(0.6393 0 0 0.3147 303.94 221.15)" fill="#1414ff">K</text>
<text class="g" transform="matrix(0.6156 0 0 0.1888 304.22 222.45)" fill="#111111">A</text>
<text class="g" transform="matrix(0.7025 0 0 0.1133 303.90 223.23)" fill="#1414ff">H</text>
<text class="g" transform="matrix(0.6506 0 0 0.0715 303.93 223.72)" fill="#1414ff">R</text>
<text class="g" transform="matrix(0.5944 0 0 0.0482 304.13 224.06)" fill="#8a0f9a">Q</text>
<text class="g" transform="matrix(0.6893 0 0 0.4517 308.60 214.02)" fill="#1a961f">S</text>
<text class="g" transform="matrix(0.7025 0 0 0.5185 308.33 217.64)" fill="#8a0f9a">N</text>
<text class="g" transform="matrix(0.7361 0 0 0.3576 308.31 220.09)" fill="#ff1414">E</text>
<text class="g" transform="matrix(0.7013 0 0 0.2503 308.72 221.82)" fill="#1a961f">T</text>
<text class="g" transform="matrix(0.6322 0 0 0.1502 308.76 222.85)" fill="#111111">V</text>
<text class="g" transform="matrix(0.6120 0 0 0.0876 308.55 223.46)" fill="#1a961f">G</text>
<text class="g" transform="matrix(0.7298 0 0 0.0994 308.31 224.15)" fill="#111111">P</text>
<text class="g" transform="matrix(0.6734 0 0 1.2694 312.78 211.36)" fill="#ff1414">D</text>
<text class="g" transform="matrix(0.6120 0 0 0.7644 312.98 216.70)" fill="#1a961f">G</text>
<text class="g" transform="matrix(0.6506 0 0 0.4434 312.79 219.82)" fill="#1414ff">R</text>
<text class="g" transform="matrix(0.7013 0 0 0.2660 313.15 221.65)" fill="#1a961f">T</text>
<text class="g" transform="matrix(0.5944 0 0 0.1227 312.99 222.51)" fill="#8a0f9a">Q</text>
<text class="g" transform="matrix(0.8048 0 0 0.0958 312.69 223.41)" fill="#111111">L</text>
<text class="g" transform="matrix(0.6393 0 0 0.1079 312.80 224.15)" fill="#1414ff">K</text>
<text class="g" transform="matrix(0.7298 0 0 0.5542 317.17 216.77)" fill="#111111">P</text>
<text class="g" transform="matrix(0.6893 0 0 0.3822 317.46 219.44)" fill="#1a961f">S</text>
<text class="g" transform="matrix(0.7025 0 0 0.2861 317.19 221.45)" fill="#1414ff">H</text>
<text class="g" transform="matrix(0.7025 0 0 0.1716 317.19 222.63)" fill="#8a0f9a">N</text>
<text class="g" transform="matrix(0.6120 0 0 0.1001 317.41 223.33)" fill="#1a961f">G</text>
<text class="g" transform="matrix(0.6156 0 0 0.1187 317.51 224.15)" fill="#111111">A</text>
<text class="g" transform="matrix(0.5944 0 0 0.4947 321.85 211.74)" fill="#8a0f9a">Q</text>
<text class="g" transform="matrix(0.7361 0 0 0.6257 321.60 217.02)" fill="#ff1414">E</text>
<text class="g" transform="matrix(0.6393 0 0 0.3576 321.66 219.48)" fill="#1414ff">K</text>
<text class="g" transform="matrix(0.7013 0 0 0.2861 322.01 221.45)" fill="#1a961f">T</text>
<text class="g" transform="matrix(0.6322 0 0 0.1716 322.05 222.63)" fill="#111111">V</text>
<text class="g" transform="matrix(0.6506 0 0 0.1030 321.65 223.34)" fill="#1414ff">R</text>
<text class="g" transform="matrix(0.7298 0 0 0.1187 321.60 224.15)" fill="#111111">P</text>
<text class="g" transform="matrix(0.7025 0 0 0.4470 326.05 217.63)" fill="#8a0f9a">N</text>
<text class="g" transform="matrix(0.6393 0 0 0.3576 326.09 220.09)" fill="#1414ff">K</text>
<text class="g" transform="matrix(0.7298 0 0 0.2503 326.03 221.82)" fill="#111111">P</text>
<text class="g" transform="matrix(0.6322 0 0 0.1502 326.48 222.85)" fill="#111111">V</text>
<text class="g" transform="matrix(0.5944 0 0 0.0693 326.28 223.33)" fill="#8a0f9a">Q</text>
<text class="g" transform="matrix(0.7361 0 0 0.0994 326.03 224.15)" fill="#ff1414">E</text>
<text class="g" transform="matrix(0.5907 0 0 0.4470 330.55 217.63)" fill="#111111">M</text>
<text class="g" transform="matrix(0.6893 0 0 0.3475 330.75 220.06)" fill="#1a961f">S</text>
<text class="g" transform="matrix(0.6156 0 0 0.2503 330.80 221.82)" fill="#111111">A</text>
<text class="g" transform="matrix(0.7298 0 0 0.1502 330.46 222.85)" fill="#111111">P</text>
<text class="g" transform="matrix(0.7025 0 0 0.0901 330.48 223.47)" fill="#8a0f9a">N</text>
<text class="g" transform="matrix(0.7013 0 0 0.0994 330.87 224.15)" fill="#1a961f">T</text>
<text class="g" transform="matrix(0.6120 0 0 0.7991 335.13 213.87)" fill="#1a961f">G</text>
<text class="g" transform="matrix(0.6156 0 0 0.5363 335.23 217.63)" fill="#111111">A</text>
<text class="g" transform="matrix(0.6893 0 0 0.3475 335.18 220.06)" fill="#1a961f">S</text>
<text class="g" transform="matrix(0.6393 0 0 0.2503 334.95 221.82)" fill="#1414ff">K</text>
<text class="g" transform="matrix(0.5944 0 0 0.1154 335.14 222.62)" fill="#8a0f9a">Q</text>
<text class="g" transform="matrix(0.7361 0 0 0.0901 334.89 223.47)" fill="#ff1414">E</text>
<text class="g" transform="matrix(0.6506 0 0 0.0994 334.94 224.15)" fill="#1414ff">R</text>
<text class="g" transform="matrix(0.6893 0 0 0.7123 339.61 210.06)" fill="#1a961f">S</text>
<text class="g" transform="matrix(0.7013 0 0 0.8224 339.73 215.79)" fill="#1a961f">T</text>
<text class="g" transform="matrix(0.6393 0 0 0.5363 339.38 219.48)" fill="#1414ff">K</text>
<text class="g" transform="matrix(0.6734 0 0 0.2861 339.36 221.45)" fill="#ff1414">D</text>
<text class="g" transform="matrix(0.6506 0 0 0.1716 339.37 222.63)" fill="#1414ff">R</text>
<text class="g" transform="matrix(0.7025 0 0 0.1030 339.34 223.34)" fill="#1414ff">H</text>
<text class="g" transform="matrix(0.7361 0 0 0.1187 339.32 224.15)" fill="#ff1414">E</text>
<text class="g" transform="matrix(0.6516 0 0 2.7890 344.13 209.64)" fill="#1a961f">Y</text>
<text class="g" transform="matrix(0.8141 0 0 1.6448 343.70 220.96)" fill="#111111">F</text>
<text class="g" transform="matrix(0.6734 0 0 0.2002 343.79 222.33)" fill="#ff1414">D</text>
<text class="g" transform="matrix(0.6393 0 0 0.1201 343.81 223.16)" fill="#1414ff">K</text>
<text class="g" transform="matrix(0.7025 0 0 0.0721 343.77 223.66)" fill="#8a0f9a">N</text>
<text class="g" transform="matrix(0.7025 0 0 0.0724 343.77 224.15)" fill="#1414ff">H</text>
<text class="g" transform="matrix(0.8141 0 0 1.8415 348.13 206.32)" fill="#111111">F</text>
<text class="g" transform="matrix(0.8048 0 0 1.2872 348.13 215.18)" fill="#111111">L</text>
<text class="g" transform="matrix(0.6893 0 0 0.4691 348.47 218.45)" fill="#1a961f">S</text>
<text class="g" transform="matrix(0.5944 0 0 0.2639 348.43 220.34)" fill="#8a0f9a">Q</text>
<text class="g" transform="matrix(0.6393 0 0 0.2060 348.24 222.27)" fill="#1414ff">K</text>
<text class="g" transform="matrix(0.7025 0 0 0.1236 348.20 223.12)" fill="#1414ff">H</text>
<text class="g" transform="matrix(0.6506 0 0 0.0741 348.23 223.63)" fill="#1414ff">R</text>
<text class="g" transform="matrix(0.6120 0 0 0.0733 348.42 224.15)" fill="#1a961f">G</text>
<text class="g" transform="matrix(0.6322 0 0 0.9118 353.06 210.13)" fill="#111111">V</text>
<text class="g" transform="matrix(0.6516 0 0 0.8224 352.99 215.79)" fill="#111111">Y</text>
<text class="g" transform="matrix(0.6893 0 0 0.5212 352.90 219.43)" fill="#1a961f">S</text>
<text class="g" transform="matrix(0.5944 0 0 0.2199 352.86 221.02)" fill="#8a0f9a">Q</text>
<text class="g" transform="matrix(0.6506 0 0 0.1716 352.66 222.63)" fill="#1414ff">R</text>
<text class="g" transform="matrix(0.7361 0 0 0.1030 352.61 223.34)" fill="#ff1414">E</text>
<text class="g" transform="matrix(0.7025 0 0 0.1187 352.63 224.15)" fill="#1414ff">H</text>
<text class="g" transform="matrix(0.6516 0 0 2.2169 357.42 213.95)" fill="#1a961f">Y</text>
<text class="g" transform="matrix(0.6393 0 0 0.6257 357.10 218.25)" fill="#1414ff">K</text>
<text class="g" transform="matrix(0.6120 0 0 0.3475 357.28 220.68)" fill="#1a961f">G</text>
<text class="g" transform="matrix(0.7298 0 0 0.2145 357.04 222.19)" fill="#111111">P</text>
<text class="g" transform="matrix(0.6506 0 0 0.1287 357.09 223.07)" fill="#1414ff">R</text>
<text class="g" transform="matrix(0.6156 0 0 0.0772 357.38 223.60)" fill="#111111">A</text>
<text class="g" transform="matrix(0.6893 0 0 0.0778 357.33 224.15)" fill="#1a961f">S</text>
<text class="g" transform="matrix(0.6893 0 0 6.1152 361.76 220.36)" fill="#1a961f">S</text>
<text class="g" transform="matrix(0.7361 0 0 0.2002 361.47 222.33)" fill="#ff1414">E</text>
<text class="g" transform="matrix(0.8048 0 0 0.1201 361.42 223.16)" fill="#111111">L</text>
<text class="g" transform="matrix(0.5944 0 0 0.0554 361.72 223.55)" fill="#8a0f9a">Q</text>
<text class="g" transform="matrix(0.6156 0 0 0.0724 361.81 224.15)" fill="#111111">A</text>
<text class="g" transform="matrix(0.6393 0 0 0.8403 365.96 212.10)" fill="#1414ff">K</text>
<text class="g" transform="matrix(0.6506 0 0 0.5721 365.95 216.04)" fill="#1414ff">R</text>
<text class="g" transform="matrix(0.6156 0 0 0.5006 366.24 219.48)" fill="#111111">A</text>
<text class="g" transform="matrix(0.6734 0 0 0.2861 365.94 221.45)" fill="#ff1414">D</text>
<text class="g" transform="matrix(0.7013 0 0 0.1716 366.31 222.63)" fill="#1a961f">T</text>
<text class="g" transform="matrix(0.6120 0 0 0.1001 366.14 223.33)" fill="#1a961f">G</text>
<text class="g" transform="matrix(0.7025 0 0 0.1187 365.92 224.15)" fill="#8a0f9a">N</text>
<text class="g" transform="matrix(0.8048 0 0 6.3825 370.28 221.57)" fill="#111111">L</text>
<text class="g" transform="matrix(0.7013 0 0 0.1645 370.74 222.70)" fill="#1a961f">T</text>
<text class="g" transform="matrix(0.6734 0 0 0.0987 370.37 223.38)" fill="#ff1414">D</text>
<text class="g" transform="matrix(0.6893 0 0 0.1091 370.62 224.14)" fill="#1a961f">S</text>
<text class="g" transform="matrix(0.7013 0 0 0.7330 375.17 212.72)" fill="#1a961f">T</text>
<text class="g" transform="matrix(0.6893 0 0 0.4691 375.05 215.99)" fill="#1a961f">S</text>
<text class="g" transform="matrix(0.6506 0 0 0.4470 374.81 219.11)" fill="#1414ff">R</text>
<text class="g" transform="matrix(0.7361 0 0 0.3218 374.76 221.33)" fill="#ff1414">E</text>
<text class="g" transform="matrix(0.7025 0 0 0.1788 374.78 222.56)" fill="#1414ff">H</text>
<text class="g" transform="matrix(0.6120 0 0 0.1042 375.00 223.28)" fill="#1a961f">G</text>
<text class="g" transform="matrix(0.6734 0 0 0.1251 374.80 224.15)" fill="#ff1414">D</text>
<text class="g" transform="matrix(0.6322 0 0 4.8629 379.64 220.96)" fill="#111111">V</text>
<text class="g" transform="matrix(0.7025 0 0 0.2002 379.21 222.33)" fill="#1414ff">H</text>
<text class="g" transform="matrix(0.6120 0 0 0.1167 379.43 223.15)" fill="#1a961f">G</text>
<text class="g" transform="matrix(0.7361 0 0 0.0721 379.19 223.66)" fill="#ff1414">E</text>
<text class="g" transform="matrix(0.6506 0 0 0.0724 379.24 224.15)" fill="#1414ff">R</text>
<text class="g" transform="matrix(0.6893 0 0 0.4343 383.91 215.13)" fill="#1a961f">S</text>
<text class="g" transform="matrix(0.6156 0 0 0.3933 383.96 217.88)" fill="#111111">A</text>
<text class="g" transform="matrix(0.6393 0 0 0.4112 383.68 220.71)" fill="#1414ff">K</text>
<text class="g" transform="matrix(0.7013 0 0 0.2145 384.03 222.19)" fill="#1a961f">T</text>
<text class="g" transform="matrix(0.7025 0 0 0.1287 383.64 223.07)" fill="#8a0f9a">N</text>
<text class="g" transform="matrix(0.6120 0 0 0.0751 383.86 223.60)" fill="#1a961f">G</text>
<text class="g" transform="matrix(0.5944 0 0 0.0616 383.87 224.03)" fill="#8a0f9a">Q</text>
<text class="g" transform="matrix(0.6393 0 0 0.6436 388.11 212.10)" fill="#1414ff">K</text>
<text class="g" transform="matrix(0.6156 0 0 0.5721 388.39 216.04)" fill="#111111">A</text>
<text class="g" transform="matrix(0.7025 0 0 0.4470 388.07 219.11)" fill="#1414ff">H</text>
<text class="g" transform="matrix(0.7361 0 0 0.3218 388.05 221.33)" fill="#ff1414">E</text>
<text class="g" transform="matrix(0.7025 0 0 0.1788 388.07 222.56)" fill="#8a0f9a">N</text>
<text class="g" transform="matrix(0.6120 0 0 0.1042 388.29 223.28)" fill="#1a961f">G</text>
<text class="g" transform="matrix(0.6893 0 0 0.1216 388.34 224.14)" fill="#1a961f">S</text>
<text class="g" transform="matrix(0.7361 0 0 0.6436 392.48 212.72)" fill="#ff1414">E</text>
<text class="g" transform="matrix(0.6893 0 0 0.4691 392.77 215.99)" fill="#1a961f">S</text>
<text class="g" transform="matrix(0.6156 0 0 0.4470 392.82 219.11)" fill="#111111">A</text>
<text class="g" transform="matrix(0.6393 0 0 0.3218 392.54 221.33)" fill="#1414ff">K</text>
<text class="g" transform="matrix(0.6322 0 0 0.1788 392.93 222.56)" fill="#111111">V</text>
<text class="g" transform="matrix(0.6120 0 0 0.1042 392.72 223.28)" fill="#1a961f">G</text>
<text class="g" transform="matrix(0.7025 0 0 0.1251 392.50 224.15)" fill="#1414ff">H</text>
<text class="g" transform="matrix(0.7361 0 0 0.5542 396.91 212.72)" fill="#ff1414">E</text>
<text class="g" transform="matrix(0.6734 0 0 0.5542 396.95 216.53)" fill="#ff1414">D</text>
<text class="g" transform="matrix(0.6393 0 0 0.5185 396.97 220.09)" fill="#1414ff">K</text>
<text class="g" transform="matrix(0.6156 0 0 0.2503 397.25 221.82)" fill="#111111">A</text>
<text class="g" transform="matrix(0.6893 0 0 0.1459 397.20 222.84)" fill="#1a961f">S</text>
<text class="g" transform="matrix(0.7025 0 0 0.0901 396.93 223.47)" fill="#1414ff">H</text>
<text class="g" transform="matrix(0.6120 0 0 0.0966 397.15 224.14)" fill="#1a961f">G</text>
<text class="g" transform="matrix(0.4385 0 0 6.3646 401.83 222.19)" fill="#111111">W</text>
<text class="g" transform="matrix(0.7025 0 0 0.1287 401.36 223.07)" fill="#8a0f9a">N</text>
<text class="g" transform="matrix(0.6322 0 0 0.0772 401.79 223.60)" fill="#111111">V</text>
<text class="g" transform="matrix(0.6156 0 0 0.0801 401.68 224.15)" fill="#111111">A</text>
<text class="g" transform="matrix(0.5944 0 0 0.3436 406.02 213.27)" fill="#8a0f9a">Q</text>
<text class="g" transform="matrix(0.6393 0 0 0.5721 405.83 217.88)" fill="#1414ff">K</text>
<text class="g" transform="matrix(0.6893 0 0 0.3996 406.06 220.67)" fill="#1a961f">S</text>
<text class="g" transform="matrix(0.6120 0 0 0.2085 406.01 222.17)" fill="#1a961f">G</text>
<text class="g" transform="matrix(0.7025 0 0 0.1287 405.79 223.07)" fill="#1414ff">H</text>
<text class="g" transform="matrix(0.6734 0 0 0.0772 405.81 223.60)" fill="#ff1414">D</text>
<text class="g" transform="matrix(0.8048 0 0 0.0801 405.72 224.15)" fill="#111111">L</text>
<text class="g" transform="matrix(0.5944 0 0 0.4123 410.45 212.52)" fill="#8a0f9a">Q</text>
<text class="g" transform="matrix(0.6506 0 0 0.5721 410.25 217.27)" fill="#1414ff">R</text>
<text class="g" transform="matrix(0.7361 0 0 0.4112 410.20 220.10)" fill="#ff1414">E</text>
<text class="g" transform="matrix(0.7025 0 0 0.2503 410.22 221.82)" fill="#1414ff">H</text>
<text class="g" transform="matrix(0.7025 0 0 0.1502 410.22 222.85)" fill="#8a0f9a">N</text>
<text class="g" transform="matrix(0.6734 0 0 0.0901 410.24 223.47)" fill="#ff1414">D</text>
<text class="g" transform="matrix(0.6893 0 0 0.0966 410.49 224.14)" fill="#1a961f">S</text>
<text class="g" transform="matrix(0.6120 0 0 3.2139 414.87 213.63)" fill="#1a961f">G</text>
<text class="g" transform="matrix(0.6893 0 0 0.6080 414.92 218.19)" fill="#1a961f">S</text>
<text class="g" transform="matrix(0.6322 0 0 0.3576 415.08 220.71)" fill="#111111">V</text>
<text class="g" transform="matrix(0.6506 0 0 0.2145 414.68 222.19)" fill="#1414ff">R</text>
<text class="g" transform="matrix(0.7361 0 0 0.1287 414.63 223.07)" fill="#ff1414">E</text>
<text class="g" transform="matrix(0.6156 0 0 0.0772 414.97 223.60)" fill="#111111">A</text>
<text class="g" transform="matrix(0.6734 0 0 0.0801 414.67 224.15)" fill="#ff1414">D</text>
<text class="g" transform="matrix(0.6734 0 0 0.6436 419.10 213.33)" fill="#ff1414">D</text>
<text class="g" transform="matrix(0.7025 0 0 0.5363 419.08 217.02)" fill="#8a0f9a">N</text>
<text class="g" transform="matrix(0.6393 0 0 0.4470 419.12 220.09)" fill="#1414ff">K</text>
<text class="g" transform="matrix(0.8048 0 0 0.2503 419.01 221.82)" fill="#111111">L</text>
<text class="g" transform="matrix(0.6120 0 0 0.1459 419.30 222.84)" fill="#1a961f">G</text>
<text class="g" transform="matrix(0.6156 0 0 0.0901 419.40 223.47)" fill="#111111">A</text>
<text class="g" transform="matrix(0.6506 0 0 0.0994 419.11 224.15)" fill="#1414ff">R</text>
<text class="g" transform="matrix(0.7013 0 0 0.6436 423.90 213.33)" fill="#1a961f">T</text>
<text class="g" transform="matrix(0.6322 0 0 0.5721 423.94 217.27)" fill="#111111">V</text>
<text class="g" transform="matrix(0.6393 0 0 0.4112 423.55 220.10)" fill="#1414ff">K</text>
<text class="g" transform="matrix(0.7298 0 0 0.2503 423.49 221.82)" fill="#111111">P</text>
<text class="g" transform="matrix(0.6734 0 0 0.1502 423.53 222.85)" fill="#ff1414">D</text>
<text class="g" transform="matrix(0.8048 0 0 0.0901 423.44 223.47)" fill="#111111">L</text>
<text class="g" transform="matrix(0.6893 0 0 0.0966 423.78 224.14)" fill="#1a961f">S</text>
<text class="g" transform="matrix(0.8141 0 0 3.0393 427.87 209.64)" fill="#111111">F</text>
<text class="g" transform="matrix(0.6516 0 0 1.7342 428.30 221.57)" fill="#1a961f">Y</text>
<text class="g" transform="matrix(0.6893 0 0 0.1598 428.21 222.69)" fill="#1a961f">S</text>
<text class="g" transform="matrix(0.6734 0 0 0.0987 427.96 223.38)" fill="#ff1414">D</text>
<text class="g" transform="matrix(0.7361 0 0 0.1123 427.92 224.15)" fill="#ff1414">E</text>
<text class="g" transform="matrix(0.7013 0 0 2.3063 432.76 208.90)" fill="#1a961f">T</text>
<text class="g" transform="matrix(0.6893 0 0 1.7025 432.64 220.79)" fill="#1a961f">S</text>
<text class="g" transform="matrix(0.6156 0 0 0.2002 432.69 222.33)" fill="#111111">A</text>
<text class="g" transform="matrix(0.7025 0 0 0.1201 432.37 223.16)" fill="#1414ff">H</text>
<text class="g" transform="matrix(0.7298 0 0 0.0721 432.35 223.66)" fill="#111111">P</text>
<text class="g" transform="matrix(0.6734 0 0 0.0724 432.39 224.15)" fill="#ff1414">D</text>
<text class="g" transform="matrix(0.6317 0 0 6.5495 437.01 220.93)" fill="#1a961f">C</text>
<text class="g" transform="matrix(0.7361 0 0 0.1645 436.78 222.70)" fill="#ff1414">E</text>
<text class="g" transform="matrix(0.6893 0 0 0.0959 437.07 223.37)" fill="#1a961f">S</text>
<text class="g" transform="matrix(0.7013 0 0 0.1123 437.19 224.15)" fill="#1a961f">T</text>
<text class="g" transform="matrix(0.6322 0 0 0.6436 441.66 213.33)" fill="#111111">V</text>
<text class="g" transform="matrix(0.6393 0 0 0.6436 441.27 217.76)" fill="#1414ff">K</text>
<text class="g" transform="matrix(0.8048 0 0 0.3862 441.16 220.41)" fill="#111111">L</text>
<text class="g" transform="matrix(0.7013 0 0 0.2317 441.62 222.01)" fill="#1a961f">T</text>
<text class="g" transform="matrix(0.7361 0 0 0.1390 441.21 222.97)" fill="#ff1414">E</text>
<text class="g" transform="matrix(0.7025 0 0 0.0834 441.23 223.54)" fill="#8a0f9a">N</text>
<text class="g" transform="matrix(0.7025 0 0 0.0894 441.23 224.15)" fill="#1414ff">H</text>
<text class="g" transform="matrix(0.6322 0 0 6.2037 446.09 221.57)" fill="#111111">V</text>
<text class="g" transform="matrix(0.7361 0 0 0.1645 445.64 222.70)" fill="#ff1414">E</text>
<text class="g" transform="matrix(0.6393 0 0 0.0987 445.70 223.38)" fill="#1414ff">K</text>
<text class="g" transform="matrix(0.8048 0 0 0.1123 445.59 224.15)" fill="#111111">L</text>
<text class="g" transform="matrix(0.6893 0 0 0.7123 450.36 213.26)" fill="#1a961f">S</text>
<text class="g" transform="matrix(0.6120 0 0 0.5559 450.31 217.21)" fill="#1a961f">G</text>
<text class="g" transform="matrix(0.6156 0 0 0.4112 450.41 220.10)" fill="#111111">A</text>
<text class="g" transform="matrix(0.7025 0 0 0.2503 450.09 221.82)" fill="#8a0f9a">N</text>
<text class="g" transform="matrix(0.8048 0 0 0.1502 450.02 222.85)" fill="#111111">L</text>
<text class="g" transform="matrix(0.7025 0 0 0.0901 450.09 223.47)" fill="#1414ff">H</text>
<text class="g" transform="matrix(0.6506 0 0 0.0994 450.12 224.15)" fill="#1414ff">R</text>
<text class="g" transform="matrix(0.7025 0 0 6.8295 454.52 222.19)" fill="#1414ff">H</text>
<text class="g" transform="matrix(0.6506 0 0 0.1287 454.55 223.07)" fill="#1414ff">R</text>
<text class="g" transform="matrix(0.6322 0 0 0.0772 454.95 223.60)" fill="#111111">V</text>
<text class="g" transform="matrix(0.7298 0 0 0.0801 454.50 224.15)" fill="#111111">P</text>
<text class="g" transform="matrix(0.7361 0 0 5.4529 458.93 219.73)" fill="#ff1414">E</text>
<text class="g" transform="matrix(0.8048 0 0 0.2717 458.88 221.60)" fill="#111111">L</text>
<text class="g" transform="matrix(0.5944 0 0 0.1253 459.18 222.47)" fill="#8a0f9a">Q</text>
<text class="g" transform="matrix(0.6893 0 0 0.0951 459.22 223.38)" fill="#1a961f">S</text>
<text class="g" transform="matrix(0.6322 0 0 0.1110 459.38 224.15)" fill="#111111">V</text>
<text class="g" transform="matrix(0.6156 0 0 1.8415 463.70 214.56)" fill="#111111">A</text>
<text class="g" transform="matrix(0.6893 0 0 0.7297 463.65 219.65)" fill="#1a961f">S</text>
<text class="g" transform="matrix(0.7025 0 0 0.2717 463.38 221.60)" fill="#1414ff">H</text>
<text class="g" transform="matrix(0.7013 0 0 0.1630 463.77 222.72)" fill="#1a961f">T</text>
<text class="g" transform="matrix(0.6393 0 0 0.0978 463.42 223.39)" fill="#1414ff">K</text>
<text class="g" transform="matrix(0.5944 0 0 0.0853 463.61 223.99)" fill="#8a0f9a">Q</text>
<text class="g" transform="matrix(0.8048 0 0 3.0393 467.74 213.94)" fill="#111111">L</text>
<text class="g" transform="matrix(0.7013 0 0 0.6615 468.20 218.50)" fill="#1a961f">T</text>
<text class="g" transform="matrix(0.6156 0 0 0.3433 468.13 220.86)" fill="#111111">A</text>
<text class="g" transform="matrix(0.6120 0 0 0.2001 468.03 222.26)" fill="#1a961f">G</text>
<text class="g" transform="matrix(0.7298 0 0 0.1236 467.79 223.12)" fill="#111111">P</text>
<text class="g" transform="matrix(0.7361 0 0 0.0741 467.79 223.63)" fill="#ff1414">E</text>
<text class="g" transform="matrix(0.7025 0 0 0.0755 467.81 224.15)" fill="#1414ff">H</text>
<text class="g" transform="matrix(0.7298 0 0 1.3766 472.22 213.94)" fill="#111111">P</text>
<text class="g" transform="matrix(0.7025 0 0 0.6615 472.24 218.50)" fill="#1414ff">H</text>
<text class="g" transform="matrix(0.6893 0 0 0.3336 472.51 220.83)" fill="#1a961f">S</text>
<text class="g" transform="matrix(0.7025 0 0 0.2060 472.24 222.27)" fill="#8a0f9a">N</text>
<text class="g" transform="matrix(0.6734 0 0 0.1236 472.26 223.12)" fill="#ff1414">D</text>
<text class="g" transform="matrix(0.6506 0 0 0.0741 472.27 223.63)" fill="#1414ff">R</text>
<text class="g" transform="matrix(0.5944 0 0 0.0580 472.47 224.04)" fill="#8a0f9a">Q</text>
<text class="g" transform="matrix(0.7025 0 0 0.7330 476.67 215.18)" fill="#8a0f9a">N</text>
<text class="g" transform="matrix(0.6393 0 0 0.4827 476.71 218.50)" fill="#1414ff">K</text>
<text class="g" transform="matrix(0.7013 0 0 0.3433 477.06 220.86)" fill="#1a961f">T</text>
<text class="g" transform="matrix(0.5944 0 0 0.1583 476.90 221.96)" fill="#8a0f9a">Q</text>
<text class="g" transform="matrix(0.6120 0 0 0.1201 476.89 223.11)" fill="#1a961f">G</text>
<text class="g" transform="matrix(0.8048 0 0 0.0741 476.60 223.63)" fill="#111111">L</text>
<text class="g" transform="matrix(0.6322 0 0 0.0755 477.10 224.15)" fill="#111111">V</text>
<text class="g" transform="matrix(0.7025 0 0 0.6079 481.10 215.17)" fill="#1414ff">H</text>
<text class="g" transform="matrix(0.6393 0 0 0.5363 481.14 218.87)" fill="#1414ff">K</text>
<text class="g" transform="matrix(0.7298 0 0 0.3218 481.08 221.08)" fill="#111111">P</text>
<text class="g" transform="matrix(0.6734 0 0 0.1931 481.12 222.41)" fill="#ff1414">D</text>
<text class="g" transform="matrix(0.5944 0 0 0.0891 481.33 223.03)" fill="#8a0f9a">Q</text>
<text class="g" transform="matrix(0.7013 0 0 0.0715 481.49 223.70)" fill="#1a961f">T</text>
<text class="g" transform="matrix(0.6120 0 0 0.0646 481.32 224.15)" fill="#1a961f">G</text>
<text class="g" transform="matrix(0.6893 0 0 0.3996 485.80 214.52)" fill="#1a961f">S</text>
<text class="g" transform="matrix(0.6322 0 0 0.5900 485.96 218.62)" fill="#111111">V</text>
<text class="g" transform="matrix(0.6120 0 0 0.3266 485.75 220.90)" fill="#1a961f">G</text>
<text class="g" transform="matrix(0.6156 0 0 0.2017 485.85 222.32)" fill="#111111">A</text>
<text class="g" transform="matrix(0.7298 0 0 0.1210 485.51 223.15)" fill="#111111">P</text>
<text class="g" transform="matrix(0.7361 0 0 0.0726 485.51 223.65)" fill="#ff1414">E</text>
<text class="g" transform="matrix(0.6506 0 0 0.0731 485.56 224.15)" fill="#1414ff">R</text>
<text class="g" transform="matrix(0.7013 0 0 1.4124 490.35 211.73)" fill="#1a961f">T</text>
<text class="g" transform="matrix(0.6322 0 0 0.9475 490.39 218.25)" fill="#111111">V</text>
<text class="g" transform="matrix(0.6156 0 0 0.3576 490.28 220.71)" fill="#111111">A</text>
<text class="g" transform="matrix(0.8048 0 0 0.2145 489.89 222.19)" fill="#111111">L</text>
<text class="g" transform="matrix(0.5944 0 0 0.0989 490.19 222.88)" fill="#8a0f9a">Q</text>
<text class="g" transform="matrix(0.6734 0 0 0.0772 489.98 223.60)" fill="#ff1414">D</text>
<text class="g" transform="matrix(0.7025 0 0 0.0801 489.96 224.15)" fill="#1414ff">H</text>
<text class="g" transform="matrix(0.5944 0 0 1.0719 494.62 210.97)" fill="#8a0f9a">Q</text>
<text class="g" transform="matrix(0.7361 0 0 0.8939 494.37 219.23)" fill="#ff1414">E</text>
<text class="g" transform="matrix(0.8048 0 0 0.3004 494.32 221.30)" fill="#111111">L</text>
<text class="g" transform="matrix(0.6156 0 0 0.1802 494.71 222.54)" fill="#111111">A</text>
<text class="g" transform="matrix(0.6734 0 0 0.1081 494.41 223.28)" fill="#ff1414">D</text>
<text class="g" transform="matrix(0.6322 0 0 0.0715 494.82 223.78)" fill="#111111">V</text>
<text class="g" transform="matrix(0.6393 0 0 0.0549 494.43 224.15)" fill="#1414ff">K</text>
<text class="g" transform="matrix(0.6393 0 0 2.5208 498.86 210.99)" fill="#1414ff">K</text>
<text class="g" transform="matrix(0.6506 0 0 1.3051 498.85 219.97)" fill="#1414ff">R</text>
<text class="g" transform="matrix(0.5944 0 0 0.1979 499.05 221.35)" fill="#8a0f9a">Q</text>
<text class="g" transform="matrix(0.6734 0 0 0.1545 498.84 222.81)" fill="#ff1414">D</text>
<text class="g" transform="matrix(0.6893 0 0 0.0901 499.09 223.43)" fill="#1a961f">S</text>
<text class="g" transform="matrix(0.8048 0 0 0.1033 498.75 224.15)" fill="#111111">L</text>
<text class="g" transform="matrix(0.6893 0 0 1.5635 503.52 208.75)" fill="#1a961f">S</text>
<text class="g" transform="matrix(0.7013 0 0 1.5018 503.64 219.23)" fill="#1a961f">T</text>
<text class="g" transform="matrix(0.6734 0 0 0.3004 503.27 221.30)" fill="#ff1414">D</text>
<text class="g" transform="matrix(0.7298 0 0 0.1802 503.23 222.54)" fill="#111111">P</text>
<text class="g" transform="matrix(0.7025 0 0 0.1081 503.25 223.28)" fill="#8a0f9a">N</text>
<text class="g" transform="matrix(0.5944 0 0 0.0550 503.48 223.67)" fill="#8a0f9a">Q</text>
<text class="g" transform="matrix(0.6322 0 0 0.0549 503.68 224.15)" fill="#111111">V</text>
<text class="g" transform="matrix(0.6516 0 0 3.0214 508.04 218.62)" fill="#111111">Y</text>
<text class="g" transform="matrix(0.6734 0 0 0.3361 507.70 220.93)" fill="#ff1414">D</text>
<text class="g" transform="matrix(0.7013 0 0 0.2017 508.07 222.32)" fill="#1a961f">T</text>
<text class="g" transform="matrix(0.6156 0 0 0.1210 508.00 223.15)" fill="#111111">A</text>
<text class="g" transform="matrix(0.6322 0 0 0.0726 508.11 223.65)" fill="#111111">V</text>
<text class="g" transform="matrix(0.8048 0 0 0.0731 507.61 224.15)" fill="#111111">L</text>
<text class="g" transform="matrix(0.6893 0 0 1.1640 512.38 210.88)" fill="#1a961f">S</text>
<text class="g" transform="matrix(0.6734 0 0 1.1084 512.13 218.62)" fill="#ff1414">D</text>
<text class="g" transform="matrix(0.6506 0 0 0.3361 512.14 220.93)" fill="#1414ff">R</text>
<text class="g" transform="matrix(0.6393 0 0 0.2017 512.15 222.32)" fill="#1414ff">K</text>
<text class="g" transform="matrix(0.7025 0 0 0.1210 512.11 223.15)" fill="#8a0f9a">N</text>
<text class="g" transform="matrix(0.6156 0 0 0.0726 512.43 223.65)" fill="#111111">A</text>
<text class="g" transform="matrix(0.8048 0 0 0.0731 512.04 224.15)" fill="#111111">L</text>
<text class="g" transform="matrix(0.6393 0 0 1.5912 516.58 213.70)" fill="#1414ff">K</text>
<text class="g" transform="matrix(0.7025 0 0 0.6615 516.54 218.25)" fill="#8a0f9a">N</text>
<text class="g" transform="matrix(0.6322 0 0 0.3576 516.97 220.71)" fill="#111111">V</text>
<text class="g" transform="matrix(0.6506 0 0 0.2145 516.57 222.19)" fill="#1414ff">R</text>
<text class="g" transform="matrix(0.6120 0 0 0.1251 516.76 223.06)" fill="#1a961f">G</text>
<text class="g" transform="matrix(0.8048 0 0 0.0772 516.47 223.60)" fill="#111111">L</text>
<text class="g" transform="matrix(0.7361 0 0 0.0801 516.52 224.15)" fill="#ff1414">E</text>
<text class="g" transform="matrix(0.6893 0 0 1.6504 521.24 213.54)" fill="#1a961f">S</text>
<text class="g" transform="matrix(0.6120 0 0 0.6428 521.19 218.19)" fill="#1a961f">G</text>
<text class="g" transform="matrix(0.7025 0 0 0.3576 520.97 220.71)" fill="#1414ff">H</text>
<text class="g" transform="matrix(0.6393 0 0 0.2145 521.01 222.19)" fill="#1414ff">K</text>
<text class="g" transform="matrix(0.5944 0 0 0.0989 521.20 222.88)" fill="#8a0f9a">Q</text>
<text class="g" transform="matrix(0.6734 0 0 0.0772 520.99 223.60)" fill="#ff1414">D</text>
<text class="g" transform="matrix(0.6506 0 0 0.0801 521.00 224.15)" fill="#1414ff">R</text>
<text class="g" transform="matrix(0.7298 0 0 0.8045 525.38 212.35)" fill="#111111">P</text>
<text class="g" transform="matrix(0.6893 0 0 0.5907 525.67 216.47)" fill="#1a961f">S</text>
<text class="g" transform="matrix(0.7013 0 0 0.4291 525.79 219.48)" fill="#1a961f">T</text>
<text class="g" transform="matrix(0.6322 0 0 0.2861 525.83 221.45)" fill="#111111">V</text>
<text class="g" transform="matrix(0.7025 0 0 0.1716 525.40 222.63)" fill="#1414ff">H</text>
<text class="g" transform="matrix(0.6120 0 0 0.1001 525.62 223.33)" fill="#1a961f">G</text>
<text class="g" transform="matrix(0.6156 0 0 0.1187 525.72 224.15)" fill="#111111">A</text>
<text class="g" transform="matrix(0.6120 0 0 3.4224 530.05 214.84)" fill="#1a961f">G</text>
<text class="g" transform="matrix(0.7361 0 0 0.4827 529.81 218.50)" fill="#ff1414">E</text>
<text class="g" transform="matrix(0.6506 0 0 0.3433 529.86 220.86)" fill="#1414ff">R</text>
<text class="g" transform="matrix(0.6893 0 0 0.2001 530.10 222.26)" fill="#1a961f">S</text>
<text class="g" transform="matrix(0.6156 0 0 0.1236 530.15 223.12)" fill="#111111">A</text>
<text class="g" transform="matrix(0.6322 0 0 0.0741 530.26 223.63)" fill="#111111">V</text>
<text class="g" transform="matrix(0.5944 0 0 0.0580 530.06 224.04)" fill="#8a0f9a">Q</text>
<text class="g" transform="matrix(0.6393 0 0 2.6102 534.30 215.79)" fill="#1414ff">K</text>
<text class="g" transform="matrix(0.6893 0 0 0.4864 534.53 219.19)" fill="#1a961f">S</text>
<text class="g" transform="matrix(0.7361 0 0 0.3004 534.24 221.30)" fill="#ff1414">E</text>
<text class="g" transform="matrix(0.6120 0 0 0.1751 534.48 222.52)" fill="#1a961f">G</text>
<text class="g" transform="matrix(0.6734 0 0 0.1081 534.28 223.28)" fill="#ff1414">D</text>
<text class="g" transform="matrix(0.7025 0 0 0.0715 534.26 223.78)" fill="#1414ff">H</text>
<text class="g" transform="matrix(0.6506 0 0 0.0549 534.29 224.15)" fill="#1414ff">R</text>
</g>
<g font-family="'DejaVu Sans',sans-serif" font-size="2.8" fill="#444">
<rect x="20.2" y="224.25" width="0.8" height="0.3" fill="#444"/>
<text x="19.3" y="225.35" text-anchor="end">0.0</text>
<rect x="20.2" y="218.10" width="0.8" height="0.3" fill="#444"/>
<text x="19.3" y="219.20" text-anchor="end">0.5</text>
<rect x="20.2" y="211.95" width="0.8" height="0.3" fill="#444"/>
<text x="19.3" y="213.05" text-anchor="end">1.0</text>
<rect x="20.2" y="205.80" width="0.8" height="0.3" fill="#444"/>
<text x="19.3" y="206.90" text-anchor="end">1.5</text>
<rect x="20.2" y="199.65" width="0.8" height="0.3" fill="#444"/>
<text x="19.3" y="200.75" text-anchor="end">2.0</text>
<rect x="20.2" y="193.50" width="0.8" height="0.3" fill="#444"/>
<text x="19.3" y="194.60" text-anchor="end">2.5</text>
<rect x="20.2" y="187.35" width="0.8" height="0.3" fill="#444"/>
<text x="19.3" y="188.45" text-anchor="end">3.0</text>
<rect x="20.2" y="181.20" width="0.8" height="0.3" fill="#444"/>
<text x="19.3" y="182.30" text-anchor="end">3.5</text>
<rect x="20.2" y="175.05" width="0.8" height="0.3" fill="#444"/>
<text x="19.3" y="176.15" text-anchor="end">4.0</text>
<text transform="translate(24.91 226.8) rotate(-90)" font-size="5.5" text-anchor="end" fill="#3a3a3a">1</text>
<text transform="translate(29.34 226.8) rotate(-90)" font-size="5.5" text-anchor="end" fill="#3a3a3a">2</text>
<text transform="translate(33.77 226.8) rotate(-90)" font-size="5.5" text-anchor="end" fill="#3a3a3a">3</text>
<text transform="translate(38.20 226.8) rotate(-90)" font-size="5.5" text-anchor="end" fill="#3a3a3a">4</text>
<text transform="translate(42.63 226.8) rotate(-90)" font-size="5.5" text-anchor="end" fill="#3a3a3a">5</text>
<text transform="translate(47.06 226.8) rotate(-90)" font-size="5.5" text-anchor="end" fill="#3a3a3a">6</text>
<text transform="translate(51.49 226.8) rotate(-90)" font-size="5.5" text-anchor="end" fill="#3a3a3a">7</text>
<text transform="translate(55.92 226.8) rotate(-90)" font-size="5.5" text-anchor="end" fill="#3a3a3a">8</text>
<text transform="translate(60.36 226.8) rotate(-90)" font-size="5.5" text-anchor="end" fill="#3a3a3a">9</text>
<text transform="translate(64.78 226.8) rotate(-90)" font-size="5.5" text-anchor="end" fill="#3a3a3a">10</text>
<text transform="translate(69.22 226.8) rotate(-90)" font-size="5.5" text-anchor="end" fill="#3a3a3a">11</text>
<text transform="translate(73.64 226.8) rotate(-90)" font-size="5.5" text-anchor="end" fill="#3a3a3a">12</text>
<text transform="translate(78.08 226.8) rotate(-90)" font-size="5.5" text-anchor="end" fill="#3a3a3a">13</text>
<text transform="translate(82.50 226.8) rotate(-90)" font-size="5.5" text-anchor="end" fill="#3a3a3a">14</text>
<text transform="translate(86.94 226.8) rotate(-90)" font-size="5.5" text-anchor="end" fill="#3a3a3a">15</text>
<text transform="translate(91.36 226.8) rotate(-90)" font-size="5.5" text-anchor="end" fill="#3a3a3a">16</text>
<text transform="translate(95.80 226.8) rotate(-90)" font-size="5.5" text-anchor="end" fill="#3a3a3a">17</text>
<text transform="translate(100.22 226.8) rotate(-90)" font-size="5.5" text-anchor="end" fill="#3a3a3a">18</text>
<text transform="translate(104.66 226.8) rotate(-90)" font-size="5.5" text-anchor="end" fill="#3a3a3a">19</text>
<text transform="translate(109.08 226.8) rotate(-90)" font-size="5.5" text-anchor="end" fill="#3a3a3a">20</text>
<text transform="translate(113.52 226.8) rotate(-90)" font-size="5.5" text-anchor="end" fill="#3a3a3a">21</text>
<text transform="translate(117.94 226.8) rotate(-90)" font-size="5.5" text-anchor="end" fill="#3a3a3a">22</text>
<text transform="translate(122.38 226.8) rotate(-90)" font-size="5.5" text-anchor="end" fill="#3a3a3a">23</text>
<text transform="translate(126.80 226.8) rotate(-90)" font-size="5.5" text-anchor="end" fill="#3a3a3a">24</text>
<text transform="translate(131.23 226.8) rotate(-90)" font-size="5.5" text-anchor="end" fill="#3a3a3a">25</text>
<text transform="translate(135.66 226.8) rotate(-90)" font-size="5.5" text-anchor="end" fill="#3a3a3a">26</text>
<text transform="translate(140.09 226.8) rotate(-90)" font-size="5.5" text-anchor="end" fill="#3a3a3a">27</text>
<text transform="translate(144.52 226.8) rotate(-90)" font-size="5.5" text-anchor="end" fill="#3a3a3a">28</text>
<text transform="translate(148.95 226.8) rotate(-90)" font-size="5.5" text-anchor="end" fill="#3a3a3a">29</text>
<text transform="translate(153.38 226.8) rotate(-90)" font-size="5.5" text-anchor="end" fill="#3a3a3a">30</text>
<text transform="translate(157.81 226.8) rotate(-90)" font-size="5.5" text-anchor="end" fill="#3a3a3a">31</text>
<text transform="translate(162.24 226.8) rotate(-90)" font-size="5.5" text-anchor="end" fill="#3a3a3a">32</text>
<text transform="translate(166.67 226.8) rotate(-90)" font-size="5.5" text-anchor="end" fill="#3a3a3a">33</text>
<text transform="translate(171.10 226.8) rotate(-90)" font-size="5.5" text-anchor="end" fill="#3a3a3a">34</text>
<text transform="translate(175.53 226.8) rotate(-90)" font-size="5.5" text-anchor="end" fill="#3a3a3a">35</text>
<text transform="translate(179.96 226.8) rotate(-90)" font-size="5.5" text-anchor="end" fill="#3a3a3a">36</text>
<text transform="translate(184.39 226.8) rotate(-90)" font-size="5.5" text-anchor="end" fill="#3a3a3a">37</text>
<text transform="translate(188.82 226.8) rotate(-90)" font-size="5.5" text-anchor="end" fill="#3a3a3a">38</text>
<text transform="translate(193.25 226.8) rotate(-90)" font-size="5.5" text-anchor="end" fill="#3a3a3a">39</text>
<text transform="translate(197.68 226.8) rotate(-90)" font-size="5.5" text-anchor="end" fill="#3a3a3a">40</text>
<text transform="translate(202.11 226.8) rotate(-90)" font-size="5.5" text-anchor="end" fill="#3a3a3a">41</text>
<text transform="translate(206.54 226.8) rotate(-90)" font-size="5.5" text-anchor="end" fill="#3a3a3a">42</text>
<text transform="translate(210.97 226.8) rotate(-90)" font-size="5.5" text-anchor="end" fill="#3a3a3a">43</text>
<text transform="translate(215.40 226.8) rotate(-90)" font-size="5.5" text-anchor="end" fill="#3a3a3a">44</text>
<text transform="translate(219.83 226.8) rotate(-90)" font-size="5.5" text-anchor="end" fill="#3a3a3a">45</text>
<text transform="translate(224.26 226.8) rotate(-90)" font-size="5.5" text-anchor="end" fill="#3a3a3a">46</text>
<text transform="translate(228.69 226.8) rotate(-90)" font-size="5.5" text-anchor="end" fill="#3a3a3a">47</text>
<text transform="translate(233.12 226.8) rotate(-90)" font-size="5.5" text-anchor="end" fill="#3a3a3a">48</text>
<text transform="translate(237.55 226.8) rotate(-90)" font-size="5.5" text-anchor="end" fill="#3a3a3a">49</text>
<text transform="translate(241.98 226.8) rotate(-90)" font-size="5.5" text-anchor="end" fill="#3a3a3a">50</text>
<text transform="translate(246.41 226.8) rotate(-90)" font-size="5.5" text-anchor="end" fill="#3a3a3a">51</text>
<text transform="translate(250.84 226.8) rotate(-90)" font-size="5.5" text-anchor="end" fill="#3a3a3a">52</text>
<text transform="translate(255.27 226.8) rotate(-90)" font-size="5.5" text-anchor="end" fill="#3a3a3a">53</text>
<text transform="translate(259.70 226.8) rotate(-90)" font-size="5.5" text-anchor="end" fill="#3a3a3a">54</text>
<text transform="translate(264.13 226.8) rotate(-90)" font-size="5.5" text-anchor="end" fill="#3a3a3a">55</text>
<text transform="translate(268.56 226.8) rotate(-90)" font-size="5.5" text-anchor="end" fill="#3a3a3a">56</text>
<text transform="translate(273.00 226.8) rotate(-90)" font-size="5.5" text-anchor="end" fill="#3a3a3a">57</text>
<text transform="translate(277.43 226.8) rotate(-90)" font-size="5.5" text-anchor="end" fill="#3a3a3a">58</text>
<text transform="translate(281.85 226.8) rotate(-90)" font-size="5.5" text-anchor="end" fill="#3a3a3a">59</text>
<text transform="translate(286.28 226.8) rotate(-90)" font-size="5.5" text-anchor="end" fill="#3a3a3a">60</text>
<text transform="translate(290.71 226.8) rotate(-90)" font-size="5.5" text-anchor="end" fill="#3a3a3a">61</text>
<text transform="translate(295.14 226.8) rotate(-90)" font-size="5.5" text-anchor="end" fill="#3a3a3a">62</text>
<text transform="translate(299.57 226.8) rotate(-90)" font-size="5.5" text-anchor="end" fill="#3a3a3a">63</text>
<text transform="translate(304.00 226.8) rotate(-90)" font-size="5.5" text-anchor="end" fill="#3a3a3a">64</text>
<text transform="translate(308.43 226.8) rotate(-90)" font-size="5.5" text-anchor="end" fill="#3a3a3a">65</text>
<text transform="translate(312.86 226.8) rotate(-90)" font-size="5.5" text-anchor="end" fill="#3a3a3a">66</text>
<text transform="translate(317.29 226.8) rotate(-90)" font-size="5.5" text-anchor="end" fill="#3a3a3a">67</text>
<text transform="translate(321.72 226.8) rotate(-90)" font-size="5.5" text-anchor="end" fill="#3a3a3a">68</text>
<text transform="translate(326.15 226.8) rotate(-90)" font-size="5.5" text-anchor="end" fill="#3a3a3a">69</text>
<text transform="translate(330.58 226.8) rotate(-90)" font-size="5.5" text-anchor="end" fill="#3a3a3a">70</text>
<text transform="translate(335.01 226.8) rotate(-90)" font-size="5.5" text-anchor="end" fill="#3a3a3a">71</text>
<text transform="translate(339.44 226.8) rotate(-90)" font-size="5.5" text-anchor="end" fill="#3a3a3a">72</text>
<text transform="translate(343.87 226.8) rotate(-90)" font-size="5.5" text-anchor="end" fill="#3a3a3a">73</text>
<text transform="translate(348.30 226.8) rotate(-90)" font-size="5.5" text-anchor="end" fill="#3a3a3a">74</text>
<text transform="translate(352.73 226.8) rotate(-90)" font-size="5.5" text-anchor="end" fill="#3a3a3a">75</text>
<text transform="translate(357.16 226.8) rotate(-90)" font-size="5.5" text-anchor="end" fill="#3a3a3a">76</text>
<text transform="translate(361.59 226.8) rotate(-90)" font-size="5.5" text-anchor="end" fill="#3a3a3a">77</text>
<text transform="translate(366.02 226.8) rotate(-90)" font-size="5.5" text-anchor="end" fill="#3a3a3a">78</text>
<text transform="translate(370.45 226.8) rotate(-90)" font-size="5.5" text-anchor="end" fill="#3a3a3a">79</text>
<text transform="translate(374.88 226.8) rotate(-90)" font-size="5.5" text-anchor="end" fill="#3a3a3a">80</text>
<text transform="translate(379.31 226.8) rotate(-90)" font-size="5.5" text-anchor="end" fill="#3a3a3a">81</text>
<text transform="translate(383.74 226.8) rotate(-90)" font-size="5.5" text-anchor="end" fill="#3a3a3a">82</text>
<text transform="translate(388.17 226.8) rotate(-90)" font-size="5.5" text-anchor="end" fill="#3a3a3a">83</text>
<text transform="translate(392.60 226.8) rotate(-90)" font-size="5.5" text-anchor="end" fill="#3a3a3a">84</text>
<text transform="translate(397.03 226.8) rotate(-90)" font-size="5.5" text-anchor="end" fill="#3a3a3a">85</text>
<text transform="translate(401.46 226.8) rotate(-90)" font-size="5.5" text-anchor="end" fill="#3a3a3a">86</text>
<text transform="translate(405.89 226.8) rotate(-90)" font-size="5.5" text-anchor="end" fill="#3a3a3a">87</text>
<text transform="translate(410.32 226.8) rotate(-90)" font-size="5.5" text-anchor="end" fill="#3a3a3a">88</text>
<text transform="translate(414.75 226.8) rotate(-90)" font-size="5.5" text-anchor="end" fill="#3a3a3a">89</text>
<text transform="translate(419.18 226.8) rotate(-90)" font-size="5.5" text-anchor="end" fill="#3a3a3a">90</text>
<text transform="translate(423.61 226.8) rotate(-90)" font-size="5.5" text-anchor="end" fill="#3a3a3a">91</text>
<text transform="translate(428.04 226.8) rotate(-90)" font-size="5.5" text-anchor="end" fill="#3a3a3a">92</text>
<text transform="translate(432.47 226.8) rotate(-90)" font-size="5.5" text-anchor="end" fill="#3a3a3a">93</text>
<text transform="translate(436.90 226.8) rotate(-90)" font-size="5.5" text-anchor="end" fill="#3a3a3a">94</text>
<text transform="translate(441.33 226.8) rotate(-90)" font-size="5.5" text-anchor="end" fill="#3a3a3a">95</text>
<text transform="translate(445.76 226.8) rotate(-90)" font-size="5.5" text-anchor="end" fill="#3a3a3a">96</text>
<text transform="translate(450.19 226.8) rotate(-90)" font-size="5.5" text-anchor="end" fill="#3a3a3a">97</text>
<text transform="translate(454.62 226.8) rotate(-90)" font-size="5.5" text-anchor="end" fill="#3a3a3a">98</text>
<text transform="translate(459.05 226.8) rotate(-90)" font-size="5.5" text-anchor="end" fill="#3a3a3a">99</text>
<text transform="translate(463.48 226.8) rotate(-90)" font-size="5.5" text-anchor="end" fill="#3a3a3a">100</text>
<text transform="translate(467.91 226.8) rotate(-90)" font-size="5.5" text-anchor="end" fill="#3a3a3a">101</text>
<text transform="translate(472.34 226.8) rotate(-90)" font-size="5.5" text-anchor="end" fill="#3a3a3a">102</text>
<text transform="translate(476.77 226.8) rotate(-90)" font-size="5.5" text-anchor="end" fill="#3a3a3a">103</text>
<text transform="translate(481.20 226.8) rotate(-90)" font-size="5.5" text-anchor="end" fill="#3a3a3a">104</text>
<text transform="translate(485.63 226.8) rotate(-90)" font-size="5.5" text-anchor="end" fill="#3a3a3a">105</text>
<text transform="translate(490.06 226.8) rotate(-90)" font-size="5.5" text-anchor="end" fill="#3a3a3a">106</text>
<text transform="translate(494.49 226.8) rotate(-90)" font-size="5.5" text-anchor="end" fill="#3a3a3a">107</text>
<text transform="translate(498.92 226.8) rotate(-90)" font-size="5.5" text-anchor="end" fill="#3a3a3a">108</text>
<text transform="translate(503.35 226.8) rotate(-90)" font-size="5.5" text-anchor="end" fill="#3a3a3a">109</text>
<text transform="translate(507.78 226.8) rotate(-90)" font-size="5.5" text-anchor="end" fill="#3a3a3a">110</text>
<text transform="translate(512.21 226.8) rotate(-90)" font-size="5.5" text-anchor="end" fill="#3a3a3a">111</text>
<text transform="translate(516.64 226.8) rotate(-90)" font-size="5.5" text-anchor="end" fill="#3a3a3a">112</text>
<text transform="translate(521.07 226.8) rotate(-90)" font-size="5.5" text-anchor="end" fill="#3a3a3a">113</text>
<text transform="translate(525.50 226.8) rotate(-90)" font-size="5.5" text-anchor="end" fill="#3a3a3a">114</text>
<text transform="translate(529.93 226.8) rotate(-90)" font-size="5.5" text-anchor="end" fill="#3a3a3a">115</text>
<text transform="translate(534.37 226.8) rotate(-90)" font-size="5.5" text-anchor="end" fill="#3a3a3a">116</text>
<text transform="translate(538.79 226.8) rotate(-90)" font-size="5.5" text-anchor="end" fill="#3a3a3a">117</text>
</g>
<rect x="18.0" y="242.35" width="520" height="1.5" fill="#0d0d0d"/>
<path d="M22.50 240.55 H80.70 V245.65 H22.50 Z" fill="#bcbcbc" stroke="#6a6a6a" stroke-width="0.5"/>
<rect x="22.50" y="242.70" width="57.80" height="0.8" fill="#333"/>
<path d="M80.30 239.50 L84.40 243.10 L80.30 246.70 Z" fill="#dcdcdc" stroke="#333" stroke-width="0.7" stroke-linejoin="miter"/>
<path d="M126.00 240.55 H177.80 V245.65 H126.00 Z" fill="#bcbcbc" stroke="#6a6a6a" stroke-width="0.5"/>
<rect x="126.00" y="242.70" width="51.40" height="0.8" fill="#333"/>
<path d="M177.40 239.50 L181.50 243.10 L177.40 246.70 Z" fill="#dcdcdc" stroke="#333" stroke-width="0.7" stroke-linejoin="miter"/>
<path d="M267.50 240.55 H302.00 V245.65 H267.50 Z" fill="#bcbcbc" stroke="#6a6a6a" stroke-width="0.5"/>
<rect x="267.50" y="242.70" width="34.10" height="0.8" fill="#333"/>
<path d="M301.60 239.50 L305.70 243.10 L301.60 246.70 Z" fill="#dcdcdc" stroke="#333" stroke-width="0.7" stroke-linejoin="miter"/>
<path d="M338.00 240.55 H386.40 V245.65 H338.00 Z" fill="#bcbcbc" stroke="#6a6a6a" stroke-width="0.5"/>
<rect x="338.00" y="242.70" width="48.00" height="0.8" fill="#333"/>
<path d="M386.00 239.50 L390.10 243.10 L386.00 246.70 Z" fill="#dcdcdc" stroke="#333" stroke-width="0.7" stroke-linejoin="miter"/>
<path d="M197.50 240.55 H226.50 V245.65 H197.50 Z" fill="#0a0a0a" stroke="#0a0a0a" stroke-width="0.5"/>
<path d="M226.10 239.50 L230.20 243.10 L226.10 246.70 Z" fill="#0a0a0a" stroke="#0a0a0a" stroke-width="0.7" stroke-linejoin="miter"/>
<path d="M423.00 240.55 H452.80 V245.65 H423.00 Z" fill="#0a0a0a" stroke="#0a0a0a" stroke-width="0.5"/>
<path d="M452.40 239.50 L456.50 243.10 L452.40 246.70 Z" fill="#0a0a0a" stroke="#0a0a0a" stroke-width="0.7" stroke-linejoin="miter"/>
<path d="M480.50 240.55 H510.70 V245.65 H480.50 Z" fill="#0a0a0a" stroke="#0a0a0a" stroke-width="0.5"/>
<path d="M510.30 239.50 L514.40 243.10 L510.30 246.70 Z" fill="#0a0a0a" stroke="#0a0a0a" stroke-width="0.7" stroke-linejoin="miter"/>
<rect x="22.20" y="239.2" width="1.6" height="7.9" rx="0.7" fill="#e8283c"/>
<rect x="26.64" y="239.2" width="1.6" height="7.9" rx="0.7" fill="#e8283c"/>
<rect x="31.08" y="239.2" width="1.6" height="7.9" rx="0.7" fill="#2ca02c"/>
<rect x="35.52" y="239.2" width="1.6" height="7.9" rx="0.7" fill="#2ca02c"/>
<rect x="39.96" y="239.2" width="1.6" height="7.9" rx="0.7" fill="#ff8c1a"/>
<rect x="44.40" y="239.2" width="1.6" height="7.9" rx="0.7" fill="#2ca02c"/>
<rect x="66.60" y="239.2" width="1.6" height="7.9" rx="0.7" fill="#ff8c1a"/>
<rect x="71.04" y="239.2" width="1.6" height="7.9" rx="0.7" fill="#2ca02c"/>
<rect x="75.48" y="239.2" width="1.6" height="7.9" rx="0.7" fill="#ff8c1a"/>
<rect x="79.92" y="239.2" width="1.6" height="7.9" rx="0.7" fill="#ff8c1a"/>
<rect x="84.36" y="239.2" width="1.6" height="7.9" rx="0.7" fill="#2ca02c"/>
<rect x="88.80" y="239.2" width="1.6" height="7.9" rx="0.7" fill="#ff8c1a"/>
<rect x="93.24" y="239.2" width="1.6" height="7.9" rx="0.7" fill="#e8283c"/>
<rect x="97.68" y="239.2" width="1.6" height="7.9" rx="0.7" fill="#ff8c1a"/>
<rect x="102.12" y="239.2" width="1.6" height="7.9" rx="0.7" fill="#ff8c1a"/>
<rect x="106.56" y="239.2" width="1.6" height="7.9" rx="0.7" fill="#2ca02c"/>
<rect x="111.00" y="239.2" width="1.6" height="7.9" rx="0.7" fill="#e8283c"/>
<rect x="115.44" y="239.2" width="1.6" height="7.9" rx="0.7" fill="#e8283c"/>
<rect x="119.88" y="239.2" width="1.6" height="7.9" rx="0.7" fill="#e8283c"/>
<rect x="124.32" y="239.2" width="1.6" height="7.9" rx="0.7" fill="#e8283c"/>
<rect x="128.76" y="239.2" width="1.6" height="7.9" rx="0.7" fill="#2ca02c"/>
<rect x="142.08" y="239.2" width="1.6" height="7.9" rx="0.7" fill="#ff8c1a"/>
<rect x="146.52" y="239.2" width="1.6" height="7.9" rx="0.7" fill="#2ca02c"/>
<rect x="150.96" y="239.2" width="1.6" height="7.9" rx="0.7" fill="#ff8c1a"/>
<rect x="155.40" y="239.2" width="1.6" height="7.9" rx="0.7" fill="#2ca02c"/>
<rect x="159.84" y="239.2" width="1.6" height="7.9" rx="0.7" fill="#ff8c1a"/>
<rect x="164.28" y="239.2" width="1.6" height="7.9" rx="0.7" fill="#2ca02c"/>
<rect x="168.72" y="239.2" width="1.6" height="7.9" rx="0.7" fill="#ff8c1a"/>
<rect x="173.16" y="239.2" width="1.6" height="7.9" rx="0.7" fill="#ff8c1a"/>
<rect x="177.60" y="239.2" width="1.6" height="7.9" rx="0.7" fill="#2ca02c"/>
<rect x="182.04" y="239.2" width="1.6" height="7.9" rx="0.7" fill="#1f77d0"/>
<rect x="186.48" y="239.2" width="1.6" height="7.9" rx="0.7" fill="#e8283c"/>
<rect x="190.92" y="239.2" width="1.6" height="7.9" rx="0.7" fill="#2ca02c"/>
<rect x="195.36" y="239.2" width="1.6" height="7.9" rx="0.7" fill="#e8283c"/>
<rect x="199.80" y="239.2" width="1.6" height="7.9" rx="0.7" fill="#2ca02c"/>
<rect x="204.24" y="239.2" width="1.6" height="7.9" rx="0.7" fill="#e8283c"/>
<rect x="208.68" y="239.2" width="1.6" height="7.9" rx="0.7" fill="#2ca02c"/>
<rect x="213.12" y="239.2" width="1.6" height="7.9" rx="0.7" fill="#e8283c"/>
<rect x="217.56" y="239.2" width="1.6" height="7.9" rx="0.7" fill="#2ca02c"/>
<rect x="222.00" y="239.2" width="1.6" height="7.9" rx="0.7" fill="#e8283c"/>
<rect x="226.44" y="239.2" width="1.6" height="7.9" rx="0.7" fill="#2ca02c"/>
<rect x="230.88" y="239.2" width="1.6" height="7.9" rx="0.7" fill="#e8283c"/>
<rect x="235.32" y="239.2" width="1.6" height="7.9" rx="0.7" fill="#e8283c"/>
<rect x="239.76" y="239.2" width="1.6" height="7.9" rx="0.7" fill="#e8283c"/>
<rect x="253.08" y="239.2" width="1.6" height="7.9" rx="0.7" fill="#e8283c"/>
<rect x="257.52" y="239.2" width="1.6" height="7.9" rx="0.7" fill="#2ca02c"/>
<rect x="261.96" y="239.2" width="1.6" height="7.9" rx="0.7" fill="#e8283c"/>
<rect x="266.40" y="239.2" width="1.6" height="7.9" rx="0.7" fill="#e8283c"/>
<rect x="270.84" y="239.2" width="1.6" height="7.9" rx="0.7" fill="#2ca02c"/>
<rect x="275.28" y="239.2" width="1.6" height="7.9" rx="0.7" fill="#ff8c1a"/>
<rect x="279.72" y="239.2" width="1.6" height="7.9" rx="0.7" fill="#2ca02c"/>
<rect x="284.16" y="239.2" width="1.6" height="7.9" rx="0.7" fill="#ff8c1a"/>
<rect x="288.60" y="239.2" width="1.6" height="7.9" rx="0.7" fill="#e8283c"/>
<rect x="293.04" y="239.2" width="1.6" height="7.9" rx="0.7" fill="#2ca02c"/>
<rect x="297.48" y="239.2" width="1.6" height="7.9" rx="0.7" fill="#ff8c1a"/>
<rect x="301.92" y="239.2" width="1.6" height="7.9" rx="0.7" fill="#e8283c"/>
<rect x="306.36" y="239.2" width="1.6" height="7.9" rx="0.7" fill="#ff8c1a"/>
<rect x="310.80" y="239.2" width="1.6" height="7.9" rx="0.7" fill="#ff8c1a"/>
<rect x="315.24" y="239.2" width="1.6" height="7.9" rx="0.7" fill="#ff8c1a"/>
<rect x="319.68" y="239.2" width="1.6" height="7.9" rx="0.7" fill="#e8283c"/>
<rect x="337.44" y="239.2" width="1.6" height="7.9" rx="0.7" fill="#e8283c"/>
<rect x="341.88" y="239.2" width="1.6" height="7.9" rx="0.7" fill="#2ca02c"/>
<rect x="346.32" y="239.2" width="1.6" height="7.9" rx="0.7" fill="#2ca02c"/>
<rect x="350.76" y="239.2" width="1.6" height="7.9" rx="0.7" fill="#ff8c1a"/>
<rect x="355.20" y="239.2" width="1.6" height="7.9" rx="0.7" fill="#2ca02c"/>
<rect x="359.64" y="239.2" width="1.6" height="7.9" rx="0.7" fill="#ff8c1a"/>
<rect x="364.08" y="239.2" width="1.6" height="7.9" rx="0.7" fill="#2ca02c"/>
<rect x="368.52" y="239.2" width="1.6" height="7.9" rx="0.7" fill="#ff8c1a"/>
<rect x="372.96" y="239.2" width="1.6" height="7.9" rx="0.7" fill="#2ca02c"/>
<rect x="377.40" y="239.2" width="1.6" height="7.9" rx="0.7" fill="#ff8c1a"/>
<rect x="381.84" y="239.2" width="1.6" height="7.9" rx="0.7" fill="#2ca02c"/>
<rect x="386.28" y="239.2" width="1.6" height="7.9" rx="0.7" fill="#e8283c"/>
<rect x="390.72" y="239.2" width="1.6" height="7.9" rx="0.7" fill="#2ca02c"/>
<rect x="395.16" y="239.2" width="1.6" height="7.9" rx="0.7" fill="#e8283c"/>
<rect x="399.60" y="239.2" width="1.6" height="7.9" rx="0.7" fill="#2ca02c"/>
<rect x="404.04" y="239.2" width="1.6" height="7.9" rx="0.7" fill="#2ca02c"/>
<rect x="408.48" y="239.2" width="1.6" height="7.9" rx="0.7" fill="#2ca02c"/>
<rect x="412.92" y="239.2" width="1.6" height="7.9" rx="0.7" fill="#e8283c"/>
<rect x="417.36" y="239.2" width="1.6" height="7.9" rx="0.7" fill="#e8283c"/>
<rect x="421.80" y="239.2" width="1.6" height="7.9" rx="0.7" fill="#e8283c"/>
<rect x="426.24" y="239.2" width="1.6" height="7.9" rx="0.7" fill="#e8283c"/>
<rect x="430.68" y="239.2" width="1.6" height="7.9" rx="0.7" fill="#2ca02c"/>
<rect x="435.12" y="239.2" width="1.6" height="7.9" rx="0.7" fill="#e8283c"/>
<rect x="439.56" y="239.2" width="1.6" height="7.9" rx="0.7" fill="#2ca02c"/>
<rect x="444.00" y="239.2" width="1.6" height="7.9" rx="0.7" fill="#e8283c"/>
<rect x="448.44" y="239.2" width="1.6" height="7.9" rx="0.7" fill="#2ca02c"/>
<rect x="452.88" y="239.2" width="1.6" height="7.9" rx="0.7" fill="#1f77d0"/>
<rect x="457.32" y="239.2" width="1.6" height="7.9" rx="0.7" fill="#2ca02c"/>
<rect x="461.76" y="239.2" width="1.6" height="7.9" rx="0.7" fill="#1f77d0"/>
<rect x="466.20" y="239.2" width="1.6" height="7.9" rx="0.7" fill="#2ca02c"/>
<rect x="470.64" y="239.2" width="1.6" height="7.9" rx="0.7" fill="#2ca02c"/>
<rect x="475.08" y="239.2" width="1.6" height="7.9" rx="0.7" fill="#e8283c"/>
<rect x="479.52" y="239.2" width="1.6" height="7.9" rx="0.7" fill="#e8283c"/>
<rect x="483.96" y="239.2" width="1.6" height="7.9" rx="0.7" fill="#1f77d0"/>
<rect x="488.40" y="239.2" width="1.6" height="7.9" rx="0.7" fill="#e8283c"/>
<rect x="492.84" y="239.2" width="1.6" height="7.9" rx="0.7" fill="#2ca02c"/>
<rect x="497.28" y="239.2" width="1.6" height="7.9" rx="0.7" fill="#e8283c"/>
<rect x="501.72" y="239.2" width="1.6" height="7.9" rx="0.7" fill="#ff8c1a"/>
<rect x="506.16" y="239.2" width="1.6" height="7.9" rx="0.7" fill="#e8283c"/>
<rect x="510.60" y="239.2" width="1.6" height="7.9" rx="0.7" fill="#2ca02c"/>
<rect x="515.04" y="239.2" width="1.6" height="7.9" rx="0.7" fill="#e8283c"/>
<rect x="519.48" y="239.2" width="1.6" height="7.9" rx="0.7" fill="#e8283c"/>
<rect x="523.92" y="239.2" width="1.6" height="7.9" rx="0.7" fill="#e8283c"/>
<rect x="528.36" y="239.2" width="1.6" height="7.9" rx="0.7" fill="#e8283c"/>
<rect x="532.80" y="239.2" width="1.6" height="7.9" rx="0.7" fill="#e8283c"/>
<rect x="537.24" y="239.2" width="1.6" height="7.9" rx="0.7" fill="#e8283c"/>
<g font-family="'DejaVu Sans',sans-serif" font-size="6" fill="#333" text-anchor="middle">
<text x="18.90" y="256.7">0</text>
<text x="107.40" y="256.7">20</text>
<text x="195.90" y="256.7">40</text>
<text x="284.40" y="256.7">60</text>
<text x="372.90" y="256.7">80</text>
<text x="461.40" y="256.7">100</text>
</g>
<rect x="23.5" y="289.95" width="490" height="0.8" fill="#9a9a9a"/>
<rect x="22.80" y="282.70" width="62.00" height="14.50" fill="#e7e7e7"/>
<rect x="123.00" y="282.70" width="56.80" height="14.50" fill="#e7e7e7"/>
<rect x="192.20" y="282.70" width="36.00" height="14.50" fill="#a6a6a6"/>
<rect x="263.00" y="282.70" width="42.20" height="14.50" fill="#e7e7e7"/>
<rect x="336.00" y="282.70" width="55.00" height="14.50" fill="#e7e7e7"/>
<rect x="417.00" y="282.70" width="36.20" height="14.50" fill="#a6a6a6"/>
<rect x="478.30" y="282.70" width="35.70" height="14.50" fill="#a6a6a6"/>
<rect x="23.5" y="336.45" width="490" height="0.8" fill="#9a9a9a"/>
<rect x="22.80" y="329.10" width="62.00" height="14.70" fill="#e7e7e7"/>
<rect x="123.00" y="329.10" width="56.80" height="14.70" fill="#e7e7e7"/>
<rect x="192.20" y="329.10" width="36.00" height="14.70" fill="#a6a6a6"/>
<rect x="263.00" y="329.10" width="42.20" height="14.70" fill="#e7e7e7"/>
<rect x="336.00" y="329.10" width="55.00" height="14.70" fill="#e7e7e7"/>
<rect x="417.00" y="329.10" width="36.20" height="14.70" fill="#a6a6a6"/>
<rect x="478.30" y="329.10" width="35.70" height="14.70" fill="#a6a6a6"/>
<rect x="23.5" y="386.50" width="490" height="0.8" fill="#9a9a9a"/>
<rect x="22.80" y="379.20" width="62.00" height="14.60" fill="#e7e7e7"/>
<rect x="123.00" y="379.20" width="56.80" height="14.60" fill="#e7e7e7"/>
<rect x="192.20" y="379.20" width="36.00" height="14.60" fill="#a6a6a6"/>
<rect x="263.00" y="379.20" width="42.20" height="14.60" fill="#e7e7e7"/>
<rect x="336.00" y="379.20" width="55.00" height="14.60" fill="#e7e7e7"/>
<rect x="417.00" y="379.20" width="36.20" height="14.60" fill="#a6a6a6"/>
<rect x="478.30" y="379.20" width="35.70" height="14.60" fill="#a6a6a6"/>
<rect x="23.5" y="433.75" width="490" height="0.8" fill="#9a9a9a"/>
<rect x="22.80" y="426.50" width="62.00" height="14.50" fill="#e7e7e7"/>
<rect x="123.00" y="426.50" width="56.80" height="14.50" fill="#e7e7e7"/>
<rect x="192.20" y="426.50" width="36.00" height="14.50" fill="#a6a6a6"/>
<rect x="263.00" y="426.50" width="42.20" height="14.50" fill="#e7e7e7"/>
<rect x="336.00" y="426.50" width="55.00" height="14.50" fill="#e7e7e7"/>
<rect x="417.00" y="426.50" width="36.20" height="14.50" fill="#a6a6a6"/>
<rect x="478.30" y="426.50" width="35.70" height="14.50" fill="#a6a6a6"/>
<g font-family="'Liberation Sans',sans-serif" font-weight="bold" font-size="8.4" fill="#1a1a1a" text-anchor="middle">
<text x="52.90" y="270.4">A</text>
<text x="151.50" y="270.4">B</text>
<text x="211.80" y="270.4">C</text>
<text x="283.30" y="270.4">D</text>
<text x="371.40" y="270.4">E</text>
<text x="433.00" y="270.4">F</text>
<text x="498.50" y="270.4">G</text>
</g>
<g font-family="'Liberation Sans',sans-serif" font-weight="bold" font-size="10">
<text class="g" transform="matrix(1.0516 0 0 3.0669 89.60 297.20)" fill="#ff1414">E</text>
<text class="g" transform="matrix(1.0516 0 0 3.0669 90.30 297.20)" fill="#ff1414">E</text>
<text class="g" transform="matrix(1.0217 0 0 0.4797 89.62 300.50)" fill="#1414ff">K</text>
<text class="g" transform="matrix(1.1016 0 0 0.3531 89.98 302.97)" fill="#1a961f">S</text>
<text class="g" transform="matrix(0.9781 0 0 0.2401 89.90 304.68)" fill="#1a961f">G</text>
<text class="g" transform="matrix(1.0762 0 0 0.1890 89.58 306.00)" fill="#ff1414">D</text>
<text class="g" transform="matrix(1.1227 0 0 0.1454 89.55 307.00)" fill="#8a0f9a">N</text>
<text class="g" transform="matrix(0.8507 0 0 4.3315 364.13 305.60)" fill="#1414ff">R</text>
<text class="g" transform="matrix(0.8507 0 0 4.3315 364.83 305.60)" fill="#1414ff">R</text>
<text class="g" transform="matrix(1.0182 0 0 0.1271 364.41 306.49)" fill="#1a961f">S</text>
<text class="g" transform="matrix(1.0516 0 0 3.7501 375.30 301.60)" fill="#ff1414">E</text>
<text class="g" transform="matrix(1.0516 0 0 3.7501 376.00 301.60)" fill="#ff1414">E</text>
<text class="g" transform="matrix(0.9838 0 0 0.2907 375.76 304.00)" fill="#111111">A</text>
<text class="g" transform="matrix(0.9499 0 0 0.2011 375.61 305.40)" fill="#8a0f9a">Q</text>
<text class="g" transform="matrix(0.9295 0 0 3.1105 388.28 297.20)" fill="#1414ff">R</text>
<text class="g" transform="matrix(0.9295 0 0 3.1105 388.98 297.20)" fill="#1414ff">R</text>
<text class="g" transform="matrix(0.9133 0 0 1.1773 388.29 305.30)" fill="#1414ff">K</text>
<text class="g" transform="matrix(0.9133 0 0 1.1773 388.99 305.30)" fill="#1414ff">K</text>
<text class="g" transform="matrix(1.1764 0 0 0.1017 388.11 306.00)" fill="#ff1414">E</text>
<text class="g" transform="matrix(1.1227 0 0 0.0872 388.15 306.60)" fill="#8a0f9a">N</text>
<text class="g" transform="matrix(0.8822 0 0 2.7617 440.81 294.30)" fill="#1414ff">R</text>
<text class="g" transform="matrix(0.8822 0 0 2.7617 441.51 294.30)" fill="#1414ff">R</text>
<text class="g" transform="matrix(0.8060 0 0 0.8156 441.07 300.00)" fill="#8a0f9a">Q</text>
<text class="g" transform="matrix(0.8060 0 0 0.8156 441.77 300.00)" fill="#8a0f9a">Q</text>
<text class="g" transform="matrix(0.9752 0 0 0.1890 440.75 303.50)" fill="#1414ff">K</text>
<text class="g" transform="matrix(1.1229 0 0 0.1599 440.65 304.60)" fill="#ff1414">E</text>
<text class="g" transform="matrix(1.0515 0 0 0.1412 441.10 305.59)" fill="#1a961f">S</text>
<text class="g" transform="matrix(1.0273 0 0 0.1163 440.71 306.40)" fill="#ff1414">D</text>
<text class="g" transform="matrix(0.8822 0 0 1.8896 90.41 336.20)" fill="#1414ff">R</text>
<text class="g" transform="matrix(0.8822 0 0 1.8896 91.11 336.20)" fill="#1414ff">R</text>
<text class="g" transform="matrix(0.9067 0 0 0.5028 90.63 339.71)" fill="#8a0f9a">Q</text>
<text class="g" transform="matrix(0.9390 0 0 0.5523 90.77 344.50)" fill="#111111">A</text>
<text class="g" transform="matrix(1.1132 0 0 0.4506 90.26 347.60)" fill="#111111">P</text>
<text class="g" transform="matrix(0.9752 0 0 0.2326 90.35 349.20)" fill="#1414ff">K</text>
<text class="g" transform="matrix(1.0515 0 0 0.2119 90.70 350.68)" fill="#1a961f">S</text>
<text class="g" transform="matrix(1.0716 0 0 0.2471 90.28 352.40)" fill="#8a0f9a">N</text>
<text class="g" transform="matrix(1.1229 0 0 0.2180 90.25 353.90)" fill="#ff1414">E</text>
<text class="g" transform="matrix(0.9625 0 0 3.4012 209.36 343.20)" fill="#ff1414">E</text>
<text class="g" transform="matrix(0.9625 0 0 3.4012 210.06 343.20)" fill="#ff1414">E</text>
<text class="g" transform="matrix(0.8779 0 0 0.4246 209.64 346.16)" fill="#8a0f9a">Q</text>
<text class="g" transform="matrix(0.9443 0 0 0.4361 209.37 350.00)" fill="#1414ff">K</text>
<text class="g" transform="matrix(1.0160 0 0 1.6715 222.52 331.80)" fill="#ff1414">E</text>
<text class="g" transform="matrix(1.0160 0 0 1.6715 223.22 331.80)" fill="#ff1414">E</text>
<text class="g" transform="matrix(0.8204 0 0 0.7933 222.86 337.34)" fill="#8a0f9a">Q</text>
<text class="g" transform="matrix(0.8204 0 0 0.7933 223.56 337.34)" fill="#8a0f9a">Q</text>
<text class="g" transform="matrix(0.9539 0 0 0.4361 222.96 343.00)" fill="#111111">A</text>
<text class="g" transform="matrix(0.9907 0 0 0.5814 222.54 347.00)" fill="#1414ff">K</text>
<text class="g" transform="matrix(1.0682 0 0 0.4237 222.89 349.96)" fill="#1a961f">S</text>
<text class="g" transform="matrix(0.9620 0 0 3.5466 311.86 345.20)" fill="#ff1414">D</text>
<text class="g" transform="matrix(0.9620 0 0 3.5466 312.56 345.20)" fill="#ff1414">D</text>
<text class="g" transform="matrix(1.1227 0 0 0.2616 311.75 347.00)" fill="#8a0f9a">N</text>
<text class="g" transform="matrix(1.0217 0 0 0.2326 311.82 348.60)" fill="#1414ff">K</text>
<text class="g" transform="matrix(1.1016 0 0 0.2401 312.18 350.28)" fill="#1a961f">S</text>
<text class="g" transform="matrix(1.1764 0 0 0.2180 311.71 351.80)" fill="#ff1414">E</text>
<text class="g" transform="matrix(1.0160 0 0 2.0785 321.72 335.40)" fill="#ff1414">E</text>
<text class="g" transform="matrix(1.0160 0 0 2.0785 322.42 335.40)" fill="#ff1414">E</text>
<text class="g" transform="matrix(0.9294 0 0 2.3111 321.78 351.30)" fill="#ff1414">D</text>
<text class="g" transform="matrix(0.9294 0 0 2.3111 322.48 351.30)" fill="#ff1414">D</text>
<text class="g" transform="matrix(0.8669 0 0 3.9972 365.42 348.30)" fill="#1414ff">K</text>
<text class="g" transform="matrix(0.8669 0 0 3.9972 366.12 348.30)" fill="#1414ff">K</text>
<text class="g" transform="matrix(0.9925 0 0 0.4361 365.34 351.30)" fill="#1414ff">R</text>
<text class="g" transform="matrix(0.8514 0 0 3.1832 388.63 342.70)" fill="#1414ff">K</text>
<text class="g" transform="matrix(0.8514 0 0 3.1832 389.33 342.70)" fill="#1414ff">K</text>
<text class="g" transform="matrix(1.0529 0 0 0.6832 389.08 347.40)" fill="#1a961f">T</text>
<text class="g" transform="matrix(0.9767 0 0 0.4797 388.55 350.70)" fill="#1414ff">R</text>
<text class="g" transform="matrix(1.0110 0 0 0.1017 388.52 351.40)" fill="#ff1414">D</text>
<text class="g" transform="matrix(0.9288 0 0 4.3024 28.08 398.80)" fill="#1414ff">K</text>
<text class="g" transform="matrix(0.9288 0 0 4.3024 28.78 398.80)" fill="#1414ff">K</text>
<text class="g" transform="matrix(1.1942 0 0 0.4651 27.90 402.00)" fill="#ff1414">E</text>
<text class="g" transform="matrix(0.8669 0 0 1.4826 36.72 379.70)" fill="#1414ff">K</text>
<text class="g" transform="matrix(0.8669 0 0 1.4826 37.42 379.70)" fill="#1414ff">K</text>
<text class="g" transform="matrix(1.7495 0 0 1.3808 38.02 389.90)" fill="#111111">I</text>
<text class="g" transform="matrix(0.9940 0 0 0.4215 37.13 392.80)" fill="#1a961f">Y</text>
<text class="g" transform="matrix(1.0716 0 0 0.5087 36.58 396.30)" fill="#8a0f9a">N</text>
<text class="g" transform="matrix(1.0515 0 0 0.2684 37.00 398.17)" fill="#1a961f">S</text>
<text class="g" transform="matrix(0.9925 0 0 0.5959 36.64 402.30)" fill="#1414ff">R</text>
<text class="g" transform="matrix(0.7562 0 0 4.5350 65.19 400.70)" fill="#1414ff">R</text>
<text class="g" transform="matrix(0.7562 0 0 4.5350 65.89 400.70)" fill="#1414ff">R</text>
<text class="g" transform="matrix(0.9681 0 0 3.7853 209.82 395.83)" fill="#1a961f">S</text>
<text class="g" transform="matrix(0.9681 0 0 3.7853 210.52 395.83)" fill="#1a961f">S</text>
<text class="g" transform="matrix(1.2812 0 0 0.4361 209.24 399.80)" fill="#111111">F</text>
<text class="g" transform="matrix(0.9803 0 0 3.7646 223.94 395.60)" fill="#ff1414">E</text>
<text class="g" transform="matrix(0.9803 0 0 3.7646 224.64 395.60)" fill="#ff1414">E</text>
<text class="g" transform="matrix(0.8923 0 0 0.4246 224.23 399.16)" fill="#8a0f9a">Q</text>
<text class="g" transform="matrix(1.0160 0 0 4.0408 321.42 396.80)" fill="#ff1414">E</text>
<text class="g" transform="matrix(1.0160 0 0 4.0408 322.12 396.80)" fill="#ff1414">E</text>
<text class="g" transform="matrix(0.9907 0 0 0.2326 321.44 398.40)" fill="#1414ff">K</text>
<text class="g" transform="matrix(1.0886 0 0 0.2326 321.37 400.00)" fill="#8a0f9a">N</text>
<text class="g" transform="matrix(0.7326 0 0 2.4419 280.19 429.90)" fill="#111111">W</text>
<text class="g" transform="matrix(1.2221 0 0 1.4244 279.38 439.70)" fill="#111111">F</text>
<text class="g" transform="matrix(1.2221 0 0 1.4244 280.08 439.70)" fill="#111111">F</text>
<text class="g" transform="matrix(1.1517 0 0 0.2966 279.87 441.77)" fill="#1a961f">S</text>
<text class="g" transform="matrix(1.0225 0 0 0.2542 279.78 443.58)" fill="#1a961f">G</text>
<text class="g" transform="matrix(0.9294 0 0 3.2849 420.18 437.50)" fill="#ff1414">D</text>
<text class="g" transform="matrix(0.9294 0 0 3.2849 420.88 437.50)" fill="#ff1414">D</text>
<text class="g" transform="matrix(1.1407 0 0 0.6105 420.04 441.70)" fill="#ff1414">E</text>
<text class="g" transform="matrix(1.0886 0 0 0.5523 420.07 445.50)" fill="#8a0f9a">N</text>
</g>
<g font-family="'DejaVu Sans',sans-serif" font-size="3.6" fill="#111" stroke="#111" stroke-width="0.1">
<text transform="translate(92.20 310.00) rotate(90)">17</text>
<text transform="translate(366.50 309.60) rotate(90)">79</text>
<text transform="translate(378.20 309.60) rotate(90)">81</text>
<text transform="translate(391.00 309.60) rotate(90)">84</text>
<text transform="translate(443.30 309.20) rotate(90)">96</text>
<text transform="translate(93.10 357.00) rotate(90)">17</text>
<text transform="translate(212.00 353.00) rotate(90)">44</text>
<text transform="translate(225.40 353.00) rotate(90)">46</text>
<text transform="translate(314.10 354.80) rotate(90)">67</text>
<text transform="translate(324.00 354.80) rotate(90)">69</text>
<text transform="translate(368.10 354.20) rotate(90)">79</text>
<text transform="translate(391.10 354.20) rotate(90)">84</text>
<text transform="translate(30.30 404.60) rotate(90)">3</text>
<text transform="translate(39.00 404.60) rotate(90)">5</text>
<text transform="translate(67.50 403.80) rotate(90)">11</text>
<text transform="translate(212.40 403.20) rotate(90)">44</text>
<text transform="translate(226.60 403.20) rotate(90)">46</text>
<text transform="translate(324.00 403.60) rotate(90)">69</text>
<text transform="translate(282.60 446.90) rotate(90)">60</text>
<text transform="translate(422.70 448.40) rotate(90)">91</text>
</g>
<polygon points="514.55,278.05 520.85,289.05 522.75,287.95 516.45,276.95" fill="#eaeef6" stroke="#cdd7e8" stroke-width="0.35"/>
<polygon points="539.45,276.95 533.15,287.95 535.05,289.05 541.35,278.05" fill="#eaeef6" stroke="#cdd7e8" stroke-width="0.35"/>
<polygon points="517.93,275.40 525.03,287.80 526.77,286.80 519.67,274.40" fill="#d5deed" stroke="#5d80b8" stroke-width="0.42"/>
<polygon points="536.23,274.40 529.13,286.80 530.87,287.80 537.97,275.40" fill="#d5deed" stroke="#5d80b8" stroke-width="0.42"/>
<line x1="518.80" y1="274.90" x2="525.90" y2="287.30" stroke="#7d9acb" stroke-width="0.50" stroke-dasharray="0.8 2.6"/>
<line x1="537.10" y1="274.90" x2="530.00" y2="287.30" stroke="#7d9acb" stroke-width="0.50" stroke-dasharray="0.8 2.6"/>
<rect x="525.1" y="288.3" width="5.8" height="14.2" fill="#d3dcea" stroke="#9db2d4" stroke-width="0.45"/>
<line x1="528" y1="288.3" x2="528" y2="302.5" stroke="#9db2d4" stroke-width="0.45"/>
<line x1="526.50" y1="289.00" x2="526.50" y2="302.00" stroke="#b9c8e0" stroke-width="0.60" stroke-dasharray="1.5 1.5"/>
<line x1="529.50" y1="289.00" x2="529.50" y2="302.00" stroke="#b9c8e0" stroke-width="0.60" stroke-dasharray="1.5 1.5"/>
<polygon points="518.06,323.74 524.36,335.94 526.04,335.06 519.74,322.86" fill="#b9dda4" stroke="#9ccf86" stroke-width="0.30"/>
<polygon points="520.06,322.64 526.36,334.84 528.04,333.96 521.74,321.76" fill="#b3d99c" stroke="#8cc474" stroke-width="0.30"/>
<polygon points="536.96,322.86 530.66,335.06 532.34,335.94 538.64,323.74" fill="#b9dda4" stroke="#9ccf86" stroke-width="0.30"/>
<polygon points="534.96,321.76 528.66,333.96 530.34,334.84 536.64,322.64" fill="#b3d99c" stroke="#8cc474" stroke-width="0.30"/>
<line x1="518.90" y1="323.30" x2="525.20" y2="335.50" stroke="#5f9f4c" stroke-width="0.70" stroke-dasharray="1.1 1.6"/>
<line x1="520.90" y1="322.20" x2="527.20" y2="334.40" stroke="#5f9f4c" stroke-width="0.70" stroke-dasharray="1.1 1.6"/>
<line x1="537.80" y1="323.30" x2="531.50" y2="335.50" stroke="#5f9f4c" stroke-width="0.70" stroke-dasharray="1.1 1.6"/>
<line x1="535.80" y1="322.20" x2="529.50" y2="334.40" stroke="#5f9f4c" stroke-width="0.70" stroke-dasharray="1.1 1.6"/>
<rect x="525.4" y="334.5" width="2.4" height="13.1" fill="#b3d99c" stroke="#8cc474" stroke-width="0.3"/>
<rect x="528.5" y="334.5" width="2.4" height="13.1" fill="#b3d99c" stroke="#8cc474" stroke-width="0.3"/>
<line x1="526.60" y1="335.00" x2="526.60" y2="347.40" stroke="#5f9f4c" stroke-width="0.70" stroke-dasharray="1.1 1.6"/>
<line x1="529.70" y1="335.00" x2="529.70" y2="347.40" stroke="#5f9f4c" stroke-width="0.70" stroke-dasharray="1.1 1.6"/>
<line x1="523.7" y1="367.1" x2="527.3" y2="373.8" stroke="#7fd3ea" stroke-width="2.1"/>
<line x1="532.5" y1="367.1" x2="528.9" y2="373.8" stroke="#7fd3ea" stroke-width="2.1"/>
<rect x="525.9" y="372.6" width="4.5" height="21.4" fill="#8ad8ee"/>
<line x1="527.10" y1="374.00" x2="527.10" y2="394.00" stroke="#5fc2e0" stroke-width="0.50" stroke-dasharray="1.2 1"/>
<line x1="529.20" y1="374.00" x2="529.20" y2="394.00" stroke="#5fc2e0" stroke-width="0.50" stroke-dasharray="1.2 1"/>
<line x1="522.2" y1="419.4" x2="533.1" y2="432.2" stroke="#f0555f" stroke-width="2.6"/>
<line x1="521.2" y1="412.4" x2="523.4" y2="420.0" stroke="#f0555f" stroke-width="1.9"/>
<line x1="514.3" y1="418.4" x2="522.6" y2="421.4" stroke="#f0555f" stroke-width="1.9"/>
<line x1="533.0" y1="431.2" x2="540.5" y2="433.7" stroke="#f0555f" stroke-width="1.9"/>
<line x1="530.8" y1="432.6" x2="532.1" y2="439.6" stroke="#f0555f" stroke-width="1.9"/>
<line x1="521.5" y1="413.0" x2="522.6" y2="416.8" stroke="#e3a070" stroke-width="1.6"/>
<line x1="514.8" y1="418.6" x2="518.8" y2="420.0" stroke="#e3a070" stroke-width="1.6"/>
<line x1="536.2" y1="432.3" x2="540.2" y2="433.6" stroke="#e3a070" stroke-width="1.6"/>
<line x1="531.3" y1="435.4" x2="532.0" y2="439.2" stroke="#e3a070" stroke-width="1.6"/>
<circle cx="527.5" cy="426.0" r="1.0" fill="#777"/>
<g font-family="'Liberation Sans',sans-serif" font-size="7.7" fill="#1a1a1a" stroke="#1a1a1a" stroke-width="0.2">
<text x="533.1" y="305.8">IgE</text>
<text x="533.5" y="350.0">IgG</text>
<text x="519.2" y="400.6">IgNAR</text>
<text x="534.0" y="443.2">IgA</text>
</g>
</svg>
</body></html>
